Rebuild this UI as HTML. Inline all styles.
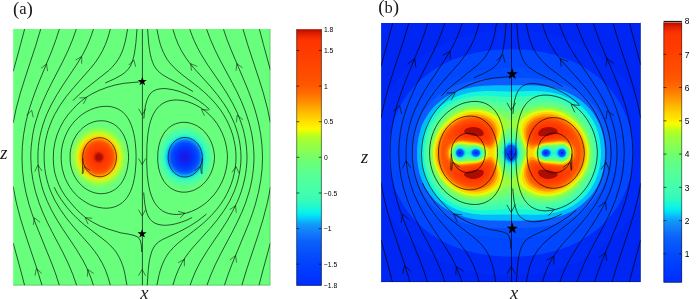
<!DOCTYPE html>
<html><head><meta charset="utf-8"><title>Vortex dipole: vorticity and strain</title>
<style>
html,body{margin:0;padding:0;background:#fff}
svg{display:block}
.tk{font-family:"Liberation Sans",sans-serif;font-size:8.4px;fill:#000}
.tka{font-family:"Liberation Sans",sans-serif;font-size:6.8px;fill:#000}
.lab{font-family:"Liberation Serif",serif;font-size:16.5px;fill:#1a1a1a}
.par{font-size:19px}
.ax{font-family:"Liberation Serif",serif;font-style:italic;font-size:18.5px;fill:#1a1a1a}
</style></head><body>
<svg width="697" height="299" viewBox="0 0 697 299">
<defs>
<clipPath id="ca"><rect x="13.2" y="29.1" width="257.1" height="256.3"/></clipPath>
<clipPath id="cb"><rect x="381.1" y="22.9" width="259.6" height="259.2"/></clipPath>
<filter id="softa" x="-2%" y="-2%" width="104%" height="104%"><feGaussianBlur stdDeviation="0.9"/></filter>
<filter id="soft" x="-2%" y="-2%" width="104%" height="104%"><feGaussianBlur stdDeviation="0.55"/></filter>
</defs>
<rect x="0" y="0" width="697" height="299" fill="#fff"/>
<g clip-path="url(#ca)"><g filter="url(#softa)">
<rect x="7.2" y="23.1" width="269.1" height="268.3" fill="#68ff7b"/>
<path d="M96.2,186.7 101.5,186.7 106.9,185.5 112.0,183.2 116.5,180.0 120.3,175.8 123.3,170.9 125.4,165.3 126.4,159.6 126.3,153.6 125.0,147.8 122.8,142.5 119.8,137.9 115.7,133.8 111.2,130.7 106.0,128.6 100.7,127.7 95.3,127.8 90.0,129.2 85.0,131.5 80.8,134.8 77.1,138.9 74.1,143.8 72.1,149.3 71.2,154.9 71.3,160.6 72.4,166.2 74.6,171.5 77.6,176.2 81.4,180.3 85.9,183.4 90.8,185.6 96.2,186.7Z" fill="#88ff53" fill-rule="evenodd"/>
<path d="M96.9,183.3 101.8,183.2 106.5,182.0 111.0,179.9 114.8,177.0 118.1,173.2 120.7,168.8 122.4,164.1 123.2,158.9 123.0,153.8 121.9,148.7 120.0,144.2 117.1,139.9 113.5,136.4 109.5,133.7 105.0,131.9 100.3,131.1 95.5,131.3 90.8,132.5 86.5,134.6 82.7,137.6 79.5,141.2 76.9,145.6 75.2,150.4 74.4,155.5 74.6,160.6 75.6,165.6 77.5,170.1 80.3,174.3 83.8,177.8 87.8,180.6 92.3,182.4 96.9,183.3Z" fill="#b2ff27" fill-rule="evenodd"/>
<path d="M96.9,180.1 101.1,180.0 105.2,179.1 109.0,177.4 112.7,174.7 115.6,171.5 117.9,167.7 119.4,163.4 120.2,159.1 120.1,154.7 119.2,150.2 117.5,145.9 115.1,142.3 112.0,139.2 108.4,136.7 104.5,135.1 100.3,134.3 96.0,134.5 91.9,135.5 88.0,137.4 84.7,139.9 81.9,143.1 79.6,147.0 78.1,151.2 77.4,155.5 77.5,160.0 78.4,164.5 80.1,168.5 82.5,172.1 85.5,175.2 88.9,177.6 92.8,179.2 96.9,180.1Z" fill="#ffe600" fill-rule="evenodd"/>
<path d="M96.1,177.5 99.8,177.7 103.7,177.1 107.3,175.6 110.5,173.5 113.3,170.7 115.5,167.3 117.0,163.6 117.8,159.8 117.9,155.7 117.2,151.7 115.8,147.8 113.8,144.4 111.2,141.6 108.0,139.2 104.5,137.7 100.9,136.8 97.3,136.8 93.6,137.5 90.2,138.9 87.0,141.1 84.2,144.0 82.1,147.2 80.6,150.8 79.8,154.7 79.7,158.7 80.3,162.6 81.6,166.2 83.5,169.6 86.1,172.6 89.1,174.9 92.5,176.6 96.1,177.5Z" fill="#ffb100" fill-rule="evenodd"/>
<path d="M97.4,175.6 100.9,175.5 104.1,174.8 107.1,173.4 110.1,171.1 112.4,168.5 114.3,165.3 115.4,162.1 116.0,158.5 115.9,154.7 115.1,151.2 113.6,147.8 111.7,145.0 109.3,142.6 106.5,140.7 103.3,139.4 99.8,138.8 96.4,139.0 93.2,139.8 90.2,141.3 87.4,143.4 85.2,145.9 83.4,148.9 82.2,152.3 81.6,155.9 81.7,159.6 82.4,163.0 83.9,166.4 85.7,169.2 88.0,171.6 90.8,173.6 93.8,174.9 97.4,175.6Z" fill="#ff7900" fill-rule="evenodd"/>
<path d="M98.0,174.1 101.1,173.9 104.1,173.1 106.9,171.7 109.5,169.7 111.5,167.3 113.1,164.4 114.2,161.1 114.6,157.9 114.4,154.4 113.6,151.2 112.2,148.3 110.3,145.7 108.1,143.6 105.4,141.9 102.4,140.8 99.4,140.3 96.2,140.6 93.2,141.4 90.4,142.9 88.1,144.8 85.9,147.4 84.4,150.2 83.4,153.4 83.0,156.6 83.2,159.8 84.0,163.0 85.3,166.0 87.2,168.7 89.5,170.9 92.1,172.5 95.1,173.7 98.0,174.1Z" fill="#ff5400" fill-rule="evenodd"/>
<path d="M98.6,172.0 101.3,171.7 103.9,170.9 106.3,169.6 108.4,167.8 110.2,165.6 111.5,163.0 112.3,160.2 112.6,157.4 112.4,154.7 111.6,151.8 110.3,149.2 108.7,147.0 106.7,145.1 104.3,143.7 101.8,142.8 99.0,142.5 96.2,142.8 93.6,143.6 91.3,144.9 89.1,146.7 87.4,148.9 86.1,151.5 85.3,154.2 85.0,157.0 85.2,159.8 86.0,162.6 87.2,165.2 88.9,167.5 90.8,169.2 93.2,170.7 95.8,171.6 98.6,172.0Z" fill="#ff4900" fill-rule="evenodd"/>
<path d="M97.4,169.2 99.6,169.2 102.0,168.8 104.0,167.9 105.8,166.6 107.5,164.9 108.7,163.0 109.5,160.9 110.0,158.5 110.0,156.2 109.6,153.8 108.8,151.7 107.5,149.6 106.0,148.0 104.1,146.6 102.0,145.7 99.8,145.2 97.7,145.2 95.5,145.7 93.6,146.5 91.7,147.9 90.1,149.5 88.9,151.5 88.1,153.6 87.6,155.9 87.6,158.3 88.0,160.6 88.8,162.8 90.0,164.7 91.5,166.4 93.2,167.7 95.3,168.7 97.4,169.2Z" fill="#ff3d00" fill-rule="evenodd"/>
<path d="M97.1,165.8 100.3,165.8 101.8,165.3 103.3,164.5 105.6,162.0 106.4,160.4 106.8,158.7 106.8,155.3 105.4,152.1 103.0,149.8 100.0,148.6 96.8,148.8 94.0,150.1 91.9,152.6 90.8,155.7 90.8,159.1 92.1,162.1 94.3,164.5 97.1,165.8Z" fill="#ff3600" fill-rule="evenodd"/>
<path d="M97.8,162.1 99.6,162.2 101.3,161.5 102.7,160.0 103.4,158.1 103.4,156.2 102.6,154.2 101.1,152.9 99.4,152.2 97.7,152.3 96.0,153.2 94.8,154.7 94.2,156.4 94.2,158.3 94.9,160.0 96.2,161.4 97.8,162.1Z" fill="#ac0c00" fill-rule="evenodd"/>
<path d="M182.2,186.7 187.7,186.7 193.0,185.5 198.2,183.2 202.7,179.9 206.4,175.8 209.4,170.9 211.4,165.6 212.4,159.6 212.3,153.8 211.2,148.0 209.0,142.7 205.9,138.0 202.0,133.9 197.3,130.8 192.2,128.7 186.8,127.7 181.5,127.8 176.1,129.1 171.2,131.5 166.9,134.7 163.1,138.9 160.2,143.8 158.2,149.1 157.3,154.7 157.3,160.4 158.5,166.2 160.6,171.5 163.6,176.2 167.5,180.3 172.0,183.5 177.0,185.6 182.2,186.7Z" fill="#54ff98" fill-rule="evenodd"/>
<path d="M183.0,183.3 187.7,183.2 192.4,182.1 196.7,180.1 200.8,177.1 204.2,173.2 206.7,169.0 208.4,164.3 209.2,159.1 209.1,154.0 208.0,149.0 206.1,144.3 203.3,140.1 199.7,136.5 195.6,133.8 191.1,132.0 186.4,131.1 181.7,131.3 177.0,132.5 172.6,134.6 168.8,137.5 165.6,141.2 163.0,145.5 161.3,150.2 160.5,155.3 160.6,160.4 161.6,165.3 163.6,170.0 166.4,174.3 169.7,177.7 173.8,180.5 178.3,182.4 183.0,183.3Z" fill="#45ffab" fill-rule="evenodd"/>
<path d="M182.9,180.1 187.3,180.0 191.3,179.1 195.2,177.3 198.7,174.7 201.6,171.5 203.9,167.7 205.5,163.4 206.2,158.9 206.1,154.4 205.2,150.0 203.4,145.7 201.0,142.1 198.0,139.1 194.3,136.6 190.5,135.1 186.2,134.3 181.9,134.5 177.8,135.5 174.0,137.5 170.8,139.9 167.9,143.1 165.7,147.0 164.2,151.0 163.5,155.5 163.6,160.0 164.4,164.3 166.2,168.5 168.6,172.2 171.6,175.3 175.0,177.6 178.9,179.3 182.9,180.1Z" fill="#28f9c6" fill-rule="evenodd"/>
<path d="M182.1,177.5 186.0,177.7 189.6,177.1 193.3,175.7 196.5,173.5 199.3,170.8 201.4,167.5 203.0,163.8 203.9,159.8 204.0,155.7 203.3,151.7 201.9,147.8 199.9,144.5 197.3,141.6 194.1,139.3 190.7,137.7 187.0,136.9 183.4,136.8 179.8,137.5 176.3,138.9 173.1,141.0 170.4,143.8 168.2,147.1 166.7,150.8 165.8,154.7 165.7,158.7 166.4,162.6 167.6,166.2 169.6,169.6 172.0,172.5 175.0,174.8 178.5,176.6 182.1,177.5Z" fill="#06ccf9" fill-rule="evenodd"/>
<path d="M183.4,175.6 186.8,175.5 190.0,174.8 193.3,173.3 196.0,171.2 198.5,168.5 200.2,165.6 201.5,162.1 202.0,158.7 202.0,155.1 201.2,151.5 199.8,148.0 197.8,145.0 195.4,142.6 192.4,140.6 189.2,139.4 186.0,138.8 182.5,139.0 179.3,139.8 176.1,141.3 173.5,143.3 171.3,145.9 169.4,149.1 168.2,152.3 167.7,155.9 167.8,159.6 168.5,163.0 169.8,166.2 171.7,169.2 174.2,171.7 177.0,173.6 180.0,174.9 183.4,175.6Z" fill="#127ffa" fill-rule="evenodd"/>
<path d="M184.1,174.1 187.0,174.0 190.0,173.2 192.9,171.8 195.4,169.8 197.5,167.3 199.1,164.5 200.1,161.5 200.6,158.1 200.5,154.7 199.7,151.5 198.4,148.5 196.6,145.9 194.3,143.7 191.5,141.9 188.5,140.8 185.5,140.3 182.3,140.5 179.3,141.4 176.5,142.9 174.2,144.8 172.2,147.2 170.5,150.1 169.5,153.2 169.1,156.4 169.2,159.6 169.9,162.8 171.2,165.8 173.1,168.5 175.5,170.8 178.0,172.5 181.0,173.6 184.1,174.1Z" fill="#095bfa" fill-rule="evenodd"/>
<path d="M184.6,172.0 187.5,171.7 190.0,170.9 192.4,169.6 194.5,167.7 196.3,165.5 197.5,163.0 198.3,160.2 198.6,157.4 198.4,154.7 197.7,151.9 196.5,149.3 194.8,147.0 192.8,145.2 190.5,143.8 187.9,142.8 185.1,142.5 182.3,142.7 179.8,143.5 177.4,144.8 175.3,146.7 173.5,148.9 172.2,151.5 171.4,154.2 171.1,157.0 171.3,159.8 172.0,162.6 173.3,165.3 175.0,167.5 177.0,169.3 179.3,170.7 181.9,171.6 184.6,172.0Z" fill="#0348fc" fill-rule="evenodd"/>
<path d="M183.5,169.2 185.8,169.2 187.9,168.8 190.0,167.9 191.9,166.6 193.5,165.0 194.7,163.0 195.6,160.9 196.1,158.5 196.1,156.2 195.7,153.8 194.8,151.5 193.5,149.5 192.0,147.9 190.1,146.5 188.1,145.7 186.0,145.2 183.8,145.2 181.7,145.7 179.6,146.5 177.8,147.8 176.2,149.5 175.0,151.5 174.1,153.6 173.7,155.9 173.6,158.3 174.1,160.6 174.9,162.8 176.0,164.7 177.6,166.4 179.3,167.7 181.3,168.6 183.5,169.2Z" fill="#0039ff" fill-rule="evenodd"/>
<path d="M183.2,165.8 186.4,165.8 187.9,165.3 189.4,164.5 190.7,163.3 191.7,161.9 192.9,158.7 192.8,155.3 191.5,152.2 189.2,149.8 186.2,148.6 183.0,148.7 180.2,150.1 178.0,152.5 176.8,155.7 176.9,159.1 178.1,162.1 180.3,164.5 183.2,165.8Z" fill="#0828f6" fill-rule="evenodd"/>
<path d="M183.9,162.1 185.8,162.2 187.5,161.4 188.8,160.0 189.5,158.1 189.4,156.2 188.6,154.2 187.3,152.9 185.5,152.3 183.6,152.4 182.1,153.2 180.9,154.4 180.2,156.4 180.3,158.3 180.9,160.0 182.3,161.5 183.9,162.1Z" fill="#161ce6" fill-rule="evenodd"/>
</g></g>
<g clip-path="url(#ca)" fill="none" stroke="#000" stroke-width="0.66" stroke-linecap="butt" stroke-linejoin="round">
<path d="M13.2,71.4 20.6,44.4 24.6,29.1M24.6,285.4 20.6,270.0 13.2,243.1M13.2,122.8 16.2,108.5 20.4,92.9 24.8,78.8 35.7,45.7 40.7,29.1M42.0,285.4 37.0,269.0 25.3,234.1 20.6,219.0 18.3,210.4 16.2,202.1 14.6,194.2 13.2,186.4M59.4,285.5 56.0,275.0 52.0,264.1 34.9,221.9 31.7,212.8 29.0,204.4 25.9,192.4 23.7,180.9 22.4,169.4 22.0,158.1 22.3,146.4 23.6,134.6 25.7,122.9 28.8,110.7 31.6,102.0 34.8,92.8 38.8,82.5 52.0,50.3 56.0,39.4 59.4,28.9M76.7,285.5 72.8,274.4 68.1,263.2 62.8,252.3 51.8,231.3 47.1,222.0 42.7,212.2 39.1,203.0 35.5,191.7 32.9,180.4 31.3,169.1 30.8,158.1 30.9,152.1 31.2,146.6 32.6,135.3 33.7,129.5 35.1,123.8 38.7,112.2 42.3,102.8 46.8,92.8 51.4,83.5 62.5,62.1 67.8,51.1 72.5,39.9 76.4,28.8M93.5,285.5 91.3,278.9 88.8,272.5 86.0,266.3 82.8,260.1 76.2,249.1 62.6,228.8 57.1,220.1 51.8,210.7 47.4,201.6 45.1,196.0 43.2,190.7 41.6,185.3 40.3,179.8 39.2,174.3 38.5,168.7 38.0,163.2 37.9,157.7 38.0,151.9 38.4,146.4 39.1,140.8 40.2,135.3 41.5,129.7 43.1,124.3 45.0,118.8 47.2,113.3 51.6,104.1 57.0,94.5 62.6,85.6 76.3,65.1 82.9,54.2 86.1,48.0 88.9,41.7 91.3,35.5 93.5,28.9M110.4,285.5 108.1,277.4 105.4,269.9 102.2,263.1 98.3,256.4 94.7,251.3 90.4,245.9 73.6,226.9 66.5,218.3 60.1,209.2 54.7,200.1 52.3,194.9 50.1,189.8 48.3,184.5 46.8,179.2 45.6,173.8 44.8,168.3 44.3,163.0 44.1,157.4 44.2,151.9 44.7,146.6 45.5,141.0 46.7,135.7 48.1,130.4 50.0,125.1 52.2,119.7 54.6,114.6 59.9,105.5 66.5,96.1 73.6,87.6 90.4,68.5 94.7,63.2 98.3,58.0 102.2,51.4 105.4,44.5 108.1,37.0 110.4,28.9M127.6,29.1 125.6,40.1 124.4,44.8 123.1,49.1 121.6,52.9 119.9,56.5 117.9,59.8 115.7,63.0 112.3,67.0 108.4,70.8 84.6,89.6 78.5,95.1 73.0,100.6M126.9,285.3 125.0,274.4 123.9,269.6 122.6,265.3 121.1,261.4 119.5,257.9 117.6,254.5 115.6,251.4 112.0,247.1 107.3,242.6 102.1,238.4 84.2,224.7 78.2,219.5 73.1,214.4 67.1,207.6 61.1,199.4 57.3,193.4 54.1,187.1M137.0,29.1 135.9,42.8 134.5,53.1 133.6,57.1 132.6,60.8 131.4,63.8 130.0,66.6 128.5,68.8 126.7,70.8 124.7,72.7 122.1,74.6 115.2,78.5 105.2,83.0M141.7,252.0 141.3,245.0 140.3,240.5 138.2,237.2 134.0,235.4 128.0,234.0 120.9,232.9 108.0,229.0 100.0,226.0 92.7,222.2 86.0,218.0 80.4,213.2 75.5,208.4 68.4,200.1 65.2,195.9 61.7,190.4 58.8,184.5 56.4,178.3 54.6,172.0 53.6,165.3 53.3,158.5 53.6,150.4 54.9,142.5 57.0,134.9 60.0,127.7 63.7,120.9 68.1,114.6 72.8,109.3 76.7,105.2 80.2,102.0 85.1,98.0 91.9,93.9 99.2,90.3 107.2,87.3 115.2,85.0 123.8,83.3 138.1,82.0 141.5,81.5M103.3,208.1 99.0,207.5 94.7,206.4 90.4,204.8 86.4,202.7 82.4,200.1 78.7,197.3 75.3,194.0 72.4,190.6 69.6,186.8 67.3,182.7 65.3,178.5 63.7,174.0 62.4,169.3 61.6,164.7 61.2,159.8 61.2,154.7 61.6,149.8 62.4,145.1 63.7,140.5 65.3,136.0 67.3,131.7 69.6,127.7 72.4,123.9 75.3,120.4 78.7,117.2 82.4,114.3 86.4,111.7 90.4,109.7 94.7,108.1 98.8,107.0 103.0,106.4 107.1,106.3 110.8,106.6 114.2,107.5 117.5,108.7 120.3,110.3 123.0,112.3 125.4,114.8 127.5,117.6 129.5,121.0 131.1,124.6 132.5,128.7 133.7,133.2 134.7,138.4 135.4,143.9 135.9,149.9 136.1,156.6 136.0,162.2 135.6,167.9 135.1,173.5 134.3,178.4 133.3,183.2 132.0,187.5 130.6,191.2 128.9,194.6 127.0,197.6 124.9,200.2 122.5,202.5 119.8,204.4 116.8,206.0 113.8,207.1 110.3,207.9 106.9,208.2 103.3,208.1M98.3,193.5 95.3,193.0 92.4,192.1 89.4,190.9 86.6,189.4 84.1,187.6 81.6,185.5 79.3,183.1 77.2,180.5 75.3,177.6 73.7,174.6 72.4,171.4 71.4,168.2 70.6,164.8 70.2,161.4 70.1,154.3 70.4,150.9 71.1,147.5 72.0,144.1 73.2,140.9 74.7,138.0 76.4,135.0 78.4,132.3 80.5,130.0 82.9,127.7 85.6,125.7 88.3,124.1 91.1,122.8 93.8,121.8 96.8,121.1 99.8,120.8 102.8,120.8 105.6,121.1 108.4,121.8 111.0,122.8 113.7,124.1 116.1,125.8 118.3,127.7 120.2,129.9 122.0,132.4 123.6,135.0 125.0,138.1 126.2,141.3 127.2,144.9 127.9,148.8 128.4,152.7 128.6,157.0 128.5,160.2 127.5,167.8 126.7,171.2 125.6,174.7 124.4,177.7 122.9,180.7 121.2,183.3 119.3,185.6 117.2,187.7 114.8,189.6 112.4,191.0 109.7,192.2 106.9,193.1 104.1,193.5 101.3,193.7 98.3,193.5M97.5,176.6 94.3,175.8 91.2,174.2 88.5,172.0 86.2,169.3 84.4,166.0 83.3,162.7 82.7,159.1 82.8,154.9 83.4,151.4 84.6,148.0 86.4,144.9 88.7,142.2 91.4,140.1 94.5,138.6 97.7,137.8 100.9,137.7 104.2,138.3 107.2,139.7 110.1,141.8 112.4,144.4 114.3,147.6 115.7,151.3 116.4,155.3 116.4,159.0 115.7,162.9 114.4,166.6 112.5,169.8 110.1,172.6 107.2,174.7 104.2,176.1 100.9,176.8 97.5,176.6M82.8,158.0 82.3,174.0M142.4,29.1 142.4,285.4M270.4,70.2 263.4,44.4 259.4,29.1M259.0,285.4 263.0,270.0 270.4,242.9M270.4,122.6 267.4,108.3 263.3,92.9 258.9,78.8 248.0,45.7 243.0,29.1M241.8,285.4 246.8,269.0 258.4,234.3 263.0,219.4 267.4,202.7 269.0,194.8 270.4,187.0M224.4,285.5 227.8,275.3 231.8,264.6 249.1,222.7 252.5,213.3 255.3,204.5 258.5,192.3 260.7,180.5 262.1,168.8 262.5,157.2 262.0,145.5 260.6,133.7 258.3,122.0 255.0,109.8 252.1,100.9 248.6,91.5 244.3,81.0 231.1,49.9 226.9,39.3 223.5,29.2M206.9,285.4 210.8,274.9 215.5,264.2 220.9,253.4 232.2,232.2 236.9,222.9 241.6,212.8 245.4,203.4 249.1,191.9 250.6,186.1 251.8,180.3 252.7,174.6 253.4,168.8 253.8,163.0 254.0,157.2 253.8,151.4 253.4,145.7 252.7,139.9 251.8,134.1 250.5,128.3 249.0,122.6 245.2,110.9 241.4,101.4 236.7,91.4 232.0,82.3 220.4,60.8 215.1,50.1 210.5,39.7 206.6,29.2M190.1,285.3 192.4,278.9 194.9,272.9 197.7,266.9 200.9,261.0 207.6,250.2 221.3,230.0 226.9,221.3 232.4,211.6 237.0,202.4 239.3,196.9 241.3,191.3 243.0,185.7 244.4,180.0 245.5,174.4 246.3,168.6 246.8,163.0 247.0,157.2 246.8,151.4 246.3,145.9 245.5,140.1 244.4,134.5 243.0,128.7 241.2,123.2 239.2,117.6 236.9,112.0 232.4,102.9 226.8,93.2 221.0,84.2 207.2,64.2 200.7,53.6 197.5,47.6 194.6,41.7 192.1,35.7 189.8,29.3M172.9,285.1 175.4,277.2 178.2,270.2 181.5,263.6 185.4,257.2 188.9,252.4 193.2,247.1 210.2,228.3 217.3,219.8 224.0,210.5 226.9,205.9 229.6,201.2 232.2,195.9 234.5,190.7 236.4,185.4 238.0,179.8 239.3,174.2 240.2,168.6 240.8,163.0 241.0,157.2 240.8,151.4 240.2,145.8 239.3,140.2 238.0,134.6 236.4,129.1 234.5,123.8 232.2,118.6 229.6,113.2 226.9,108.5 224.0,103.9 217.3,94.7 210.2,86.1 193.2,67.4 188.9,62.1 185.4,57.2 181.5,50.9 178.2,44.3 175.4,37.2 172.9,29.3M156.9,285.2 159.1,274.7 160.3,270.2 161.8,265.9 163.4,262.0 165.2,258.4 167.1,255.2 169.4,252.0 173.3,247.6 178.0,243.2 182.8,239.3 198.4,227.3 203.4,223.1 207.9,218.9 212.4,214.3 216.6,209.5 220.3,204.7 223.7,199.6 226.5,194.7 228.9,189.6 231.0,184.6 232.8,179.2 234.1,173.8 235.2,168.2 235.8,162.8 236.0,157.2 235.8,151.6 235.2,146.2 234.1,140.6 232.8,135.3 231.0,129.9 228.9,124.8 226.5,119.8 223.7,114.9 220.3,109.7 216.6,104.9 212.4,100.2 207.9,95.5 203.4,91.4 198.4,87.2 182.8,75.2 178.0,71.2 173.3,66.8 169.4,62.4 167.1,59.3 165.2,56.0 163.4,52.4 161.8,48.6 160.3,44.3 159.1,39.8 156.9,29.2M147.6,29.0 148.7,43.8 149.5,49.5 150.3,54.4 151.4,58.7 152.6,62.3 154.0,65.5 155.8,68.2 157.4,70.3 159.3,72.2 161.6,74.0 164.1,75.7 168.7,78.3 184.6,86.6 193.0,91.5M147.2,285.4 148.3,269.3 149.0,263.2 149.9,258.2 151.0,253.9 152.3,250.2 153.9,247.1 155.9,244.3 158.9,241.7 162.8,239.4 178.2,232.2 184.9,228.8 190.5,225.6 198.9,220.1 206.5,214.0M143.8,118.6 144.6,110.9 145.6,104.9 147.1,99.7 148.7,96.1 150.7,93.2 153.2,91.2 156.3,89.6 160.2,88.8 164.8,88.5 171.9,89.5 178.7,91.2 186.2,94.0 192.6,97.0 198.6,100.6 204.4,104.9 209.5,109.5M143.7,192.5 144.3,199.3 145.0,205.1 145.9,209.7 147.1,213.8 148.6,217.0 150.3,219.5 152.2,221.4 154.9,223.2 158.1,224.4 162.0,225.1 165.6,225.3 170.8,224.8 176.2,223.7 181.5,222.1 186.9,220.1 192.2,217.5M172.2,214.2 176.7,214.5 181.7,214.1 186.7,213.0 191.7,211.3 196.7,209.0 201.6,206.1 206.0,202.8 210.1,199.0 213.8,195.0 217.0,190.7 219.9,185.9 222.4,181.0 224.4,175.8 225.9,170.3 226.9,164.9 227.4,159.2 227.4,154.4 226.7,148.5 225.6,143.0 224.0,137.6 222.0,132.6 219.6,127.9 216.8,123.3 213.5,119.0 209.7,115.0 205.7,111.4 201.6,108.4 196.9,105.6 192.1,103.3 187.3,101.6 182.6,100.5 177.8,100.0 174.4,100.0 171.0,100.4 167.9,101.1 164.9,102.3 162.2,103.8 159.8,105.6 157.5,107.9 155.5,110.5 153.7,113.5 152.2,116.7 150.8,120.5 149.6,124.6 148.7,129.2 147.9,134.3 146.9,145.5 146.7,163.0 147.3,175.3 148.0,181.2 148.9,186.7 150.1,191.7 151.5,196.1 153.2,200.0 155.1,203.4 157.3,206.3 159.6,208.7 162.3,210.8 165.3,212.4 168.5,213.5 172.2,214.2M180.2,191.9 183.2,192.2 186.2,192.1 189.2,191.6 192.3,190.8 195.1,189.6 198.0,188.0 200.7,186.2 203.1,184.1 205.4,181.8 207.5,179.0 209.3,176.2 210.9,173.2 212.2,169.9 213.2,166.7 213.9,163.2 214.4,159.6 214.5,157.2 214.2,153.3 213.6,149.8 212.7,146.3 211.6,143.0 210.2,140.0 208.6,137.2 206.7,134.4 204.7,131.9 202.4,129.7 200.0,127.8 197.3,126.0 194.7,124.7 191.8,123.6 189.0,122.8 186.0,122.4 183.2,122.3 180.6,122.5 178.1,123.0 175.6,123.8 173.1,124.9 170.8,126.3 168.8,127.8 166.8,129.7 165.0,131.8 163.4,134.2 160.7,139.4 158.9,145.5 157.9,152.0 157.7,160.4 158.4,166.9 159.2,170.2 160.1,173.4 161.3,176.3 162.6,179.0 164.2,181.6 166.0,183.9 168.0,185.9 170.2,187.8 172.5,189.2 174.9,190.4 177.5,191.3 180.2,191.9M182.2,176.8 185.8,177.0 189.2,176.4 192.5,174.9 195.6,172.7 198.2,169.8 200.2,166.6 201.6,162.9 202.3,159.0 202.3,155.3 201.5,151.3 200.1,147.6 198.1,144.4 195.6,141.7 192.7,139.6 189.4,138.2 186.2,137.5 183.0,137.5 179.8,138.3 176.9,139.7 174.2,141.8 171.9,144.4 170.2,147.4 169.0,150.7 168.3,154.5 168.2,158.9 168.7,162.5 169.8,166.0 171.4,169.2 173.5,172.0 176.0,174.2 179.0,175.9 182.2,176.8M202.3,158.0 201.9,174.0"/>
<path d="M40.9,68.3 L46.6,64.0M47.5,71.1 L46.6,64.0M75.5,60.1 L81.7,56.5M81.7,63.7 L81.7,56.5M128.7,65.0 L133.8,59.9M135.7,66.8 L133.8,59.9M191.5,70.7 L190.6,63.6M197.2,66.4 L190.6,63.6M236.0,70.7 L236.9,63.6M242.6,67.9 L236.9,63.6M26.4,115.2 L31.7,110.3M33.2,117.3 L31.7,110.3M34.8,171.5 L37.9,165.0M42.0,171.0 L37.9,165.0M79.4,98.0 L86.6,97.6M83.4,104.0 L86.6,97.6M88.1,224.1 L85.1,217.6M92.3,218.2 L85.1,217.6M33.3,224.9 L34.5,217.8M40.1,222.4 L34.5,217.8M34.9,275.6 L36.4,268.6M41.7,273.4 L36.4,268.6M87.3,276.7 L87.9,269.5M93.8,273.6 L87.9,269.5M138.5,275.7 L142.1,269.5M145.7,275.8 L142.1,269.5M145.8,108.8 L142.1,115.0M138.6,108.7 L142.1,115.0M145.7,158.4 L142.1,164.6M138.5,158.4 L142.1,164.6M145.6,209.6 L142.1,215.9M138.4,209.7 L142.1,215.9M204.5,115.9 L201.5,109.4M208.7,110.1 L201.5,109.4M236.3,122.4 L237.2,115.3M242.9,119.7 L237.2,115.3M178.0,211.3 L185.0,213.1M179.9,218.2 L185.0,213.1M229.7,209.7 L235.6,205.6M236.2,212.8 L235.6,205.6M178.2,262.7 L184.5,259.2M184.3,266.4 L184.5,259.2M229.9,259.9 L235.6,255.5M236.5,262.6 L235.6,255.5M231.8,172.4 L236.1,166.6M239.0,173.2 L236.1,166.6M83.3,173.5 L84.0,166.3M89.9,170.5 L84.0,166.3M194.7,170.6 L200.5,166.3M201.3,173.5 L200.5,166.3" stroke-width="0.50"/>
</g>
<polygon points="142.3,76.7 143.4,79.9 146.8,79.9 144.1,82.0 145.1,85.2 142.3,83.3 139.5,85.2 140.5,82.0 137.8,79.9 141.2,79.9" fill="#000"/><polygon points="142.1,229.1 143.2,232.3 146.6,232.3 143.9,234.4 144.9,237.6 142.1,235.7 139.3,237.6 140.3,234.4 137.6,232.3 141.0,232.3" fill="#000"/>
<g clip-path="url(#cb)"><g filter="url(#soft)">
<rect x="375.1" y="16.9" width="271.6" height="271.2" fill="#0326f3"/>
<path d="M504.9,276.3 516.1,276.3 527.4,275.6 538.4,274.2 549.0,272.2 559.4,269.4 569.3,266.0 579.1,261.9 588.2,257.2 596.8,251.9 604.8,246.1 612.4,239.6 619.3,232.7 625.7,225.1 631.6,216.9 636.8,208.0 640.4,200.3 640.8,190.1 640.8,115.8 640.3,105.4 636.1,96.6 630.4,87.3 626.1,81.2 621.5,75.6 616.5,70.2 611.1,65.1 605.5,60.3 599.4,55.8 593.1,51.6 586.7,47.9 579.7,44.3 572.6,41.2 565.2,38.4 557.7,36.0 549.9,33.9 541.9,32.3 533.9,31.0 525.6,30.1 514.0,29.5 502.1,29.7 490.4,30.7 478.9,32.5 467.9,35.0 457.3,38.2 446.9,42.2 437.1,46.8 427.8,52.2 419.2,58.2 411.2,64.7 403.7,72.0 397.0,79.7 390.9,88.2 385.3,97.4 382.5,103.1 381.5,105.6 381.1,115.8 381.1,190.1 381.5,200.7 387.0,211.5 393.7,221.9 398.4,227.9 403.3,233.5 408.7,238.9 414.4,244.0 420.5,248.7 426.8,253.0 433.5,257.1 440.6,260.8 448.0,264.2 455.5,267.1 463.3,269.7 471.3,271.8 479.6,273.5 487.8,274.9 496.2,275.8 504.9,276.3ZM510.5,154.9 509.6,154.0 509.4,152.5 510.0,151.2 511.1,150.9 512.2,151.7 512.5,153.4 511.8,154.7 511.1,155.0 510.5,154.9ZM545.5,153.8 544.9,153.5 544.7,153.0 545.0,152.3 545.8,152.1 546.3,152.3 546.6,153.0 546.3,153.6 545.5,153.8ZM561.8,153.8 561.3,153.2 561.4,152.5 561.8,152.1 562.4,152.0 563.0,152.5 563.0,153.4 562.4,153.9 561.8,153.8ZM459.2,153.8 458.8,153.2 458.8,152.5 459.4,152.0 460.1,152.1 460.5,152.7 460.5,153.4 459.9,153.9 459.2,153.8ZM476.1,153.8 475.4,153.4 475.3,152.7 475.9,152.1 476.5,152.1 477.1,152.5 477.2,153.2 476.7,153.7 476.1,153.8Z" fill="#0329f5" fill-rule="evenodd"/>
<path d="M504.0,256.6 516.1,256.7 528.0,256.0 539.5,254.4 550.5,252.2 560.9,249.2 570.9,245.4 580.2,240.9 588.8,235.7 597.0,229.7 604.3,223.2 611.0,215.8 616.8,208.0 621.8,199.6 626.0,190.8 629.2,181.5 631.6,171.7 632.9,161.6 633.3,151.2 632.6,140.9 630.9,130.7 628.1,121.0 624.4,111.5 619.7,102.4 614.1,94.0 607.6,86.2 600.4,79.1 592.5,72.7 583.6,66.9 574.1,62.0 564.2,57.9 553.6,54.5 542.3,52.0 529.1,50.1 515.5,49.2 501.6,49.4 488.2,50.6 475.4,52.8 463.5,55.9 452.1,60.0 441.5,65.1 431.7,71.0 422.9,77.9 414.9,85.5 407.8,94.0 401.8,103.1 396.8,113.0 392.9,123.4 390.3,134.2 388.8,145.8 388.6,157.5 389.8,169.2 392.3,180.4 394.1,186.0 396.1,191.4 401.1,201.6 407.3,211.3 414.6,220.1 422.9,228.0 431.9,235.0 442.1,241.1 452.9,246.2 464.6,250.3 477.2,253.5 490.4,255.6 504.0,256.6ZM510.3,156.1 509.4,155.5 508.8,154.7 508.5,153.6 508.5,152.3 509.4,150.4 510.3,149.8 511.1,149.7 512.1,150.1 512.9,151.0 513.4,152.3 513.4,153.6 512.9,154.9 512.2,155.7 511.4,156.1 510.3,156.1ZM545.3,154.3 544.5,153.8 544.2,152.7 544.9,151.8 546.0,151.6 546.8,152.2 547.1,153.2 546.4,154.1 545.3,154.3ZM562.0,154.5 561.0,153.8 560.8,152.7 561.3,151.7 562.2,151.4 563.3,152.0 563.6,153.2 563.1,154.1 562.0,154.5ZM459.4,154.5 458.5,153.8 458.3,152.7 458.8,151.8 459.9,151.4 460.9,152.1 461.1,153.2 460.5,154.2 459.4,154.5ZM475.9,154.3 474.9,153.6 474.8,152.5 475.7,151.7 476.7,151.7 477.5,152.3 477.6,153.4 477.0,154.1 475.9,154.3Z" fill="#0446ff" fill-rule="evenodd"/>
<path d="M501.5,238.1 512.0,238.2 522.6,238.0 532.3,237.2 541.4,236.0 549.7,234.4 557.7,232.3 565.2,229.7 572.2,226.7 578.9,223.1 585.1,219.0 591.1,214.3 596.5,209.1 601.3,203.5 605.6,197.4 609.1,191.2 612.2,184.5 614.8,176.7 616.6,168.7 617.7,160.3 618.0,151.9 617.5,143.2 616.2,135.0 614.2,127.0 611.4,119.5 607.9,112.3 603.7,105.6 598.8,99.4 593.4,93.7 587.3,88.5 580.6,83.9 573.5,79.8 565.7,76.3 555.3,72.9 544.0,70.3 531.7,68.6 518.3,67.8 503.6,67.8 489.5,68.7 477.0,70.5 465.5,73.2 455.7,76.5 446.9,80.6 438.7,85.5 431.1,91.4 424.4,97.9 418.5,105.1 413.6,113.0 409.7,121.4 407.8,126.6 406.4,131.8 405.2,137.2 404.4,142.6 403.9,148.2 403.8,153.8 404.6,164.8 406.7,175.4 408.3,180.6 410.1,185.6 412.4,190.5 414.8,195.1 417.6,199.4 420.7,203.7 427.6,211.4 435.4,218.0 444.3,223.9 454.0,228.7 464.4,232.4 475.7,235.2 488.0,237.1 501.5,238.1ZM510.1,158.0 508.8,157.2 507.7,155.8 507.1,154.0 507.1,152.1 507.6,150.4 508.5,148.9 509.8,148.0 511.4,147.8 512.9,148.5 514.1,149.9 514.7,151.9 514.8,153.8 514.2,155.8 513.1,157.2 511.6,158.0 510.1,158.0ZM545.5,155.1 544.7,154.9 543.8,154.3 543.3,152.7 543.6,151.9 544.2,151.2 546.0,150.8 546.8,151.0 547.6,151.7 548.1,153.2 547.3,154.6 545.5,155.1ZM561.6,155.3 560.7,154.9 560.2,154.2 559.8,152.5 560.7,151.0 561.6,150.6 562.4,150.5 563.3,150.9 563.9,151.5 564.3,152.3 564.3,153.4 563.9,154.4 563.3,155.0 562.4,155.4 561.6,155.3ZM459.2,155.3 458.4,154.9 457.8,154.2 457.5,152.5 458.4,151.0 459.2,150.6 460.1,150.5 460.9,150.9 461.6,151.5 462.0,152.3 462.0,153.4 461.7,154.2 460.9,155.0 460.1,155.4 459.2,155.3ZM476.1,155.1 474.4,154.5 473.8,153.0 474.4,151.4 476.1,150.8 477.8,151.4 478.3,152.1 478.5,153.0 478.3,153.8 477.8,154.5 476.1,155.1Z" fill="#064dff" fill-rule="evenodd"/>
<path d="M503.9,228.3 525.0,228.1 533.6,227.6 541.2,226.8 548.4,225.7 555.1,224.2 561.6,222.2 567.4,219.9 573.5,217.0 579.1,213.7 584.3,209.9 589.0,205.8 593.5,201.1 597.4,196.2 600.8,191.0 603.7,185.4 606.4,178.7 608.4,171.5 609.7,164.2 610.3,156.6 610.3,148.8 609.6,141.1 608.2,133.7 606.1,126.6 603.5,120.1 600.3,114.1 596.4,108.3 592.0,103.1 586.9,98.1 581.5,93.8 575.4,90.0 569.1,86.7 560.5,83.3 551.2,80.8 541.0,79.0 529.5,78.0 512.4,77.5 494.7,77.9 481.7,78.9 470.5,80.9 461.6,83.3 453.2,86.5 445.6,90.5 438.7,95.1 432.4,100.5 426.8,106.7 422.1,113.2 418.2,120.6 416.3,125.1 414.6,130.1 413.3,135.0 412.4,140.2 411.7,145.6 411.4,151.2 411.5,156.8 411.9,162.2 413.7,172.4 415.0,177.1 416.7,181.9 418.7,186.4 421.0,190.8 423.7,195.1 426.5,199.0 433.0,206.0 440.4,212.1 448.6,217.1 457.7,221.2 467.4,224.3 478.0,226.5 489.7,227.7 503.9,228.3ZM510.3,159.7 508.5,158.9 507.0,157.2 506.1,154.9 505.9,152.3 506.4,149.9 507.7,147.8 509.4,146.5 511.1,146.2 513.1,146.9 514.8,148.6 515.7,151.0 515.9,153.6 515.3,156.2 514.0,158.3 512.2,159.5 510.3,159.7ZM545.5,155.8 544.5,155.5 543.4,154.8 542.8,153.8 542.6,152.7 543.0,151.7 543.8,150.8 544.9,150.3 546.2,150.1 547.3,150.4 548.3,151.2 548.8,152.1 549.0,153.2 548.6,154.2 547.8,155.1 546.8,155.6 545.5,155.8ZM561.1,156.0 560.0,155.4 559.3,154.5 559.0,153.4 559.1,152.1 559.6,151.0 560.5,150.2 561.6,149.8 562.6,149.8 563.7,150.3 564.6,151.4 565.0,152.5 564.9,153.8 564.4,154.9 563.5,155.7 562.4,156.1 561.1,156.0ZM459.0,156.0 457.9,155.4 457.2,154.5 456.9,153.4 457.0,152.1 457.5,151.0 458.3,150.2 459.4,149.8 460.5,149.8 461.6,150.4 462.5,151.3 462.9,152.5 462.8,153.8 462.2,154.9 461.3,155.8 460.1,156.1 459.0,156.0ZM475.9,155.8 474.8,155.5 473.7,154.9 473.0,153.8 472.9,152.7 473.2,151.7 474.0,150.8 475.0,150.3 476.3,150.1 477.4,150.4 478.5,151.1 479.1,152.1 479.2,153.2 478.9,154.2 478.1,155.1 477.0,155.6 475.9,155.8Z" fill="#085aff" fill-rule="evenodd"/>
<path d="M489.2,220.6 520.9,220.7 533.9,220.5 545.3,219.5 555.7,217.5 561.3,215.8 566.7,213.8 571.7,211.4 576.5,208.6 580.8,205.6 584.9,202.1 588.7,198.3 592.2,194.2 595.7,189.0 598.7,183.4 601.1,177.4 603.0,170.9 604.2,164.0 604.9,157.1 604.9,149.7 604.3,142.6 603.2,136.1 601.5,129.8 599.3,124.0 596.5,118.4 593.3,113.2 589.5,108.4 585.1,104.0 580.4,100.0 573.0,95.2 564.8,91.3 555.9,88.5 546.4,86.5 537.3,85.6 526.7,85.2 495.8,85.2 483.2,85.7 474.6,86.7 466.6,88.3 459.2,90.5 452.3,93.4 445.8,97.0 439.7,101.4 434.3,106.3 429.7,111.7 427.1,115.4 424.7,119.5 422.6,123.8 420.9,128.1 418.4,137.4 417.1,147.6 417.1,158.4 417.6,163.5 418.4,168.7 419.5,173.5 421.1,178.2 422.8,182.5 424.9,186.9 429.7,194.2 435.6,200.9 442.6,206.7 450.3,211.5 458.8,215.2 467.9,217.9 477.8,219.7 489.2,220.6ZM510.5,161.4 508.3,160.6 506.4,158.5 505.1,155.8 504.8,152.5 505.3,149.5 506.8,146.8 508.8,145.1 511.1,144.5 513.5,145.3 515.5,147.3 516.7,150.1 517.1,153.4 516.4,156.6 515.0,159.2 512.9,160.9 510.5,161.4ZM545.5,156.4 544.0,156.0 542.8,155.1 542.1,153.8 542.0,152.5 542.5,151.2 543.6,150.2 545.1,149.6 546.6,149.5 548.1,150.0 549.2,151.0 549.8,152.1 549.9,153.4 549.4,154.7 548.4,155.7 547.1,156.3 545.5,156.4ZM561.6,156.9 560.3,156.5 559.0,155.5 558.2,154.2 558.0,152.7 558.4,151.2 559.4,150.0 560.7,149.2 562.2,149.0 563.7,149.5 564.8,150.5 565.5,151.9 565.6,153.4 565.1,154.9 564.3,156.0 563.1,156.7 561.6,156.9ZM459.4,156.8 458.1,156.4 457.0,155.3 456.4,154.0 456.3,152.5 456.7,151.0 457.6,149.9 458.8,149.2 460.3,149.0 461.8,149.5 463.0,150.6 463.7,151.9 463.8,153.4 463.3,154.9 462.4,156.0 460.9,156.7 459.4,156.8ZM475.4,156.4 473.9,156.0 472.8,155.1 472.0,153.8 471.9,152.5 472.4,151.2 473.5,150.1 475.0,149.6 476.7,149.6 478.0,150.0 479.2,151.0 479.8,152.3 479.8,153.6 479.3,154.7 478.3,155.7 477.0,156.3 475.4,156.4Z" fill="#00bcfc" fill-rule="evenodd"/>
<path d="M482.4,214.7 490.6,214.8 511.4,214.4 536.2,214.8 544.2,214.4 551.6,213.4 556.6,212.3 561.3,210.9 565.9,209.2 570.4,207.0 574.5,204.7 578.4,202.0 582.1,199.0 585.4,195.8 589.1,191.4 592.3,186.6 595.0,181.5 597.2,176.1 599.0,170.2 600.2,164.0 600.9,157.5 601.0,151.0 600.5,144.5 599.5,138.3 598.1,132.4 596.1,126.8 593.5,121.4 590.5,116.4 587.0,111.9 583.0,107.7 576.3,102.4 568.5,97.9 560.0,94.6 550.7,92.3 543.8,91.5 536.5,91.1 510.9,91.5 486.0,91.1 478.3,91.4 471.1,92.3 464.2,93.9 457.9,95.9 451.9,98.6 446.2,101.9 441.0,105.8 436.5,110.1 433.6,113.4 431.1,116.9 426.8,124.4 423.7,132.9 421.6,142.2 420.9,152.1 421.4,162.0 423.2,171.5 426.2,180.2 430.1,187.5 435.1,194.2 441.0,200.1 448.0,205.1 455.5,209.0 463.8,211.9 472.6,213.8 482.4,214.7ZM510.1,163.1 508.8,162.7 507.5,161.9 505.4,159.4 504.0,156.0 503.6,152.3 504.4,148.6 506.2,145.4 508.5,143.3 509.8,142.8 511.1,142.7 512.4,142.9 513.7,143.6 515.0,144.6 516.2,146.0 517.8,149.7 518.2,153.6 517.4,157.5 515.5,160.8 514.2,162.0 512.9,162.8 511.6,163.2 510.1,163.1ZM545.5,157.1 543.6,156.5 542.1,155.3 541.3,153.8 541.3,152.3 542.0,150.8 543.4,149.5 545.3,148.9 547.3,148.9 549.0,149.6 550.4,150.8 551.1,152.1 551.2,153.6 550.4,155.1 549.0,156.3 547.3,157.0 545.5,157.1ZM560.7,157.5 559.0,156.7 557.6,155.3 556.8,153.8 556.8,152.3 557.6,150.6 559.0,149.2 560.7,148.4 562.6,148.4 564.3,149.1 565.5,150.4 566.2,152.1 566.1,154.0 565.5,155.6 564.2,156.9 562.4,157.6 560.7,157.5ZM459.0,157.5 457.5,156.8 456.2,155.3 455.6,153.6 455.7,151.9 456.4,150.3 457.7,149.0 459.4,148.3 461.2,148.4 462.9,149.2 464.3,150.6 465.1,152.3 465.0,153.8 464.1,155.5 462.7,156.8 460.9,157.5 459.0,157.5ZM475.2,157.1 473.5,156.6 471.8,155.5 470.8,154.0 470.6,152.5 471.3,151.0 472.8,149.6 474.8,148.9 476.7,148.9 478.5,149.5 479.8,150.6 480.5,152.1 480.6,153.6 479.9,155.1 478.7,156.2 477.0,157.0 475.2,157.1Z" fill="#17f6d9" fill-rule="evenodd"/>
<path d="M478.2,210.2 487.6,210.2 510.1,208.8 517.2,209.0 537.1,210.3 543.8,210.2 550.1,209.6 558.7,207.8 566.7,204.8 574.1,200.8 580.6,195.7 584.4,191.8 587.7,187.5 590.6,183.0 593.0,178.0 595.0,172.6 596.6,167.0 597.6,161.2 598.0,155.1 597.9,149.1 597.3,143.2 596.2,137.4 594.5,131.8 592.4,126.6 589.8,121.6 586.8,117.1 583.4,113.0 579.4,109.1 575.0,105.7 570.0,102.7 564.8,100.2 559.4,98.3 553.6,96.9 547.5,96.0 541.0,95.6 533.2,95.8 512.0,97.1 504.9,96.9 484.5,95.6 477.6,95.7 471.3,96.4 462.9,98.2 454.9,101.2 447.7,105.1 441.3,110.2 435.7,116.2 431.2,123.1 427.5,131.1 425.2,139.6 423.9,148.6 424.0,157.7 425.2,166.6 427.7,175.2 431.0,182.5 435.4,189.3 440.6,195.1 446.9,200.2 453.8,204.2 461.4,207.2 469.6,209.2 478.2,210.2ZM510.1,165.1 508.5,164.6 507.2,163.8 505.9,162.5 504.7,160.7 503.0,156.6 502.5,152.3 503.4,148.0 505.5,143.9 506.8,142.5 508.1,141.5 509.6,140.9 511.1,140.7 512.7,141.0 514.2,141.8 515.7,143.1 517.0,144.9 518.8,149.1 519.3,151.4 519.4,153.6 519.1,155.8 518.4,158.1 517.4,160.3 516.1,162.3 514.8,163.6 513.3,164.6 511.8,165.1 510.1,165.1ZM561.1,158.4 558.3,157.4 554.6,154.3 554.0,154.0 553.3,154.3 550.6,156.4 548.8,157.3 546.4,157.8 544.2,157.4 542.5,156.6 541.1,155.1 540.5,153.4 540.7,151.7 541.3,150.6 542.3,149.5 543.6,148.7 545.1,148.2 547.1,148.2 549.0,148.6 554.0,151.9 554.8,151.4 557.5,149.1 559.2,148.1 561.3,147.5 563.3,147.8 564.9,148.6 566.2,150.1 566.8,152.1 566.8,154.0 566.1,155.9 564.8,157.3 563.1,158.2 561.1,158.4ZM459.6,158.4 457.9,157.9 456.4,156.7 455.4,155.1 455.0,153.4 455.2,151.4 456.0,149.7 457.3,148.4 458.8,147.7 460.7,147.5 462.7,148.1 464.4,149.1 467.0,151.4 467.9,151.9 472.8,148.6 474.8,148.2 476.7,148.2 478.3,148.7 479.6,149.5 480.6,150.6 481.2,151.9 481.3,153.6 480.6,155.3 479.3,156.6 477.4,157.5 475.2,157.8 473.1,157.3 471.2,156.4 468.5,154.3 467.9,154.0 467.2,154.3 464.6,156.6 463.1,157.6 461.4,158.3 459.6,158.4Z" fill="#3dfdb2" fill-rule="evenodd"/>
<path d="M475.4,206.5 480.6,206.6 486.0,206.4 503.8,204.1 510.7,203.7 517.6,204.0 537.1,206.5 543.6,206.6 549.7,206.2 557.2,204.9 564.4,202.5 570.9,199.3 576.9,195.0 580.8,191.4 584.2,187.5 587.3,183.2 589.8,178.7 592.0,173.7 593.7,168.5 594.8,163.3 595.6,157.7 595.8,152.3 595.4,146.7 594.6,141.3 593.3,136.1 591.5,130.9 589.1,126.0 586.4,121.4 583.4,117.3 579.8,113.4 575.8,110.0 571.5,107.0 566.7,104.4 561.8,102.4 556.6,100.9 551.2,99.8 545.5,99.3 535.6,99.6 518.1,101.8 511.1,102.2 504.2,101.9 484.5,99.4 478.0,99.3 472.0,99.7 464.6,101.0 457.5,103.4 451.0,106.6 444.9,110.9 439.3,116.4 434.6,122.7 430.9,129.8 428.1,137.6 426.5,145.8 426.1,154.2 426.9,162.5 428.8,170.7 431.8,178.2 435.7,184.9 440.6,191.0 446.2,196.1 452.5,200.2 459.6,203.4 467.2,205.5 475.4,206.5ZM509.8,167.2 508.1,166.6 506.6,165.5 505.2,164.0 503.9,162.0 501.9,157.1 501.4,154.7 501.3,152.3 501.6,149.9 502.3,147.3 503.4,144.7 504.9,142.4 506.4,140.6 507.9,139.4 509.4,138.8 511.1,138.6 512.9,138.9 514.6,139.9 516.1,141.3 517.6,143.3 518.9,145.8 519.9,148.6 520.4,151.2 520.5,153.6 520.2,156.2 519.4,159.0 518.1,161.8 516.6,164.1 515.0,165.7 513.3,166.8 511.6,167.3 509.8,167.2ZM560.3,159.0 554.0,156.7 552.7,156.8 547.7,158.4 545.8,158.4 543.8,158.0 541.8,156.8 540.4,155.3 539.7,153.4 540.0,151.4 540.7,150.1 541.9,149.0 543.4,148.1 545.1,147.6 548.4,147.6 552.7,149.1 554.0,149.2 555.3,148.9 560.0,146.9 562.0,146.8 563.7,147.2 565.7,148.4 566.9,150.1 567.5,152.3 567.3,154.7 566.3,156.8 564.6,158.3 562.4,159.1 560.3,159.0ZM459.0,159.0 457.0,158.2 455.6,156.8 454.6,155.1 454.3,153.2 454.5,151.2 455.4,149.3 456.8,147.9 458.6,147.0 460.3,146.8 462.0,147.0 466.6,148.9 467.9,149.2 469.2,149.1 473.7,147.6 477.0,147.6 478.7,148.2 480.1,149.1 481.3,150.3 482.0,151.7 482.1,153.6 481.5,155.3 480.0,156.9 477.8,158.1 475.9,158.4 473.9,158.4 469.2,156.8 467.9,156.7 466.6,157.0 462.2,158.9 460.5,159.1 459.0,159.0Z" fill="#4effa0" fill-rule="evenodd"/>
<path d="M474.3,203.5 480.0,203.5 486.0,203.0 491.9,202.0 504.4,199.3 510.9,198.7 517.4,199.3 530.4,202.1 536.7,203.1 543.4,203.6 549.7,203.3 556.4,202.2 562.6,200.3 568.7,197.5 574.1,194.0 577.8,190.8 581.2,187.2 584.4,183.2 587.1,178.9 589.3,174.3 591.1,169.6 592.5,164.6 593.4,159.4 593.8,154.5 593.7,149.3 593.1,144.1 592.0,139.1 590.5,134.4 588.4,129.6 585.9,125.1 583.1,121.0 579.7,117.0 576.1,113.5 572.2,110.5 567.8,107.9 563.3,105.8 558.5,104.2 553.6,103.1 548.1,102.4 542.3,102.4 536.2,102.9 530.2,103.9 517.4,106.6 510.9,107.2 504.4,106.6 491.5,103.8 485.2,102.8 478.5,102.3 472.2,102.6 465.5,103.7 459.2,105.6 453.2,108.4 447.8,111.9 442.2,116.9 437.4,122.9 433.4,129.6 430.5,137.0 428.7,144.5 428.0,152.3 428.5,160.1 430.1,167.6 432.8,175.0 436.6,181.9 441.3,187.9 446.7,193.1 452.7,197.3 459.4,200.4 466.8,202.5 474.3,203.5ZM510.1,169.8 508.3,169.3 506.6,168.1 505.1,166.5 503.5,164.2 502.0,161.2 500.9,157.9 500.2,155.1 500.1,152.5 500.4,149.7 501.3,146.7 502.6,143.4 504.2,140.6 505.7,138.7 507.5,137.1 509.2,136.3 511.1,136.0 513.1,136.4 514.8,137.5 516.6,139.2 518.1,141.3 519.7,144.5 520.9,147.8 521.6,150.6 521.8,153.4 521.4,156.4 520.4,159.6 518.9,163.1 517.2,165.9 515.5,167.9 513.7,169.1 512.0,169.8 510.1,169.8ZM560.5,159.9 554.0,158.2 547.3,159.2 545.3,159.1 543.4,158.5 541.0,157.1 539.5,155.3 538.9,153.4 539.2,151.2 540.1,149.7 541.4,148.4 543.2,147.5 545.1,146.9 548.1,146.8 553.8,147.7 560.3,146.0 562.2,146.0 563.9,146.4 566.0,147.8 567.5,149.7 568.2,152.1 568.1,154.7 567.0,157.1 565.2,158.8 563.1,159.7 560.5,159.9ZM459.6,159.9 457.5,159.3 455.6,157.9 454.2,156.0 453.6,153.8 453.7,151.4 454.6,149.3 456.0,147.6 457.9,146.4 459.6,146.0 461.6,146.0 468.1,147.7 473.7,146.8 476.7,146.9 478.7,147.5 480.4,148.4 481.8,149.7 482.7,151.2 483.0,153.4 482.2,155.5 480.6,157.3 478.3,158.6 476.3,159.1 474.4,159.2 467.9,158.2 462.5,159.7 459.6,159.9Z" fill="#5eff8a" fill-rule="evenodd"/>
<path d="M475.3,200.9 481.3,200.7 487.6,199.7 493.8,198.0 505.5,194.2 508.3,193.6 510.9,193.4 513.5,193.6 516.3,194.2 528.7,198.2 535.6,199.9 542.7,200.8 549.7,200.7 555.5,199.9 561.3,198.2 566.7,195.8 571.7,192.7 575.4,189.8 578.9,186.4 582.0,182.8 584.8,178.7 587.1,174.5 589.0,170.0 590.4,165.5 591.5,160.7 592.0,156.0 592.1,151.2 591.6,146.5 590.8,141.7 589.5,137.2 587.7,132.6 585.4,128.3 582.9,124.4 579.7,120.4 576.3,116.9 572.4,113.6 568.3,110.9 563.9,108.7 559.4,107.0 554.6,105.8 549.7,105.2 542.7,105.1 535.6,106.0 528.7,107.7 516.3,111.7 513.5,112.3 510.9,112.5 508.3,112.3 505.5,111.7 493.2,107.7 486.3,106.0 479.3,105.1 472.4,105.1 466.4,106.0 460.7,107.6 455.3,110.0 450.1,113.2 444.5,117.9 439.5,123.6 435.5,130.1 432.5,137.0 430.5,144.3 429.8,151.7 430.1,159.0 431.6,166.3 434.3,173.5 438.0,180.1 442.8,186.2 448.2,191.3 454.2,195.3 460.7,198.3 467.9,200.2 475.3,200.9ZM509.8,173.0 508.1,172.4 506.4,171.0 504.7,169.0 503.0,166.3 501.2,162.5 499.8,158.6 499.0,155.3 498.8,152.5 499.2,149.5 500.3,145.8 502.1,141.5 504.0,137.9 505.7,135.5 507.5,134.0 509.2,133.0 511.1,132.7 513.1,133.2 514.8,134.3 516.6,136.0 518.3,138.7 520.4,142.8 522.0,147.1 522.8,150.4 523.0,153.4 522.6,156.6 521.4,160.5 519.5,165.0 517.4,168.7 515.7,170.8 513.7,172.4 511.8,173.1 509.8,173.0ZM560.9,160.7 554.2,159.4 546.8,159.9 544.7,159.6 542.7,159.0 540.3,157.5 538.5,155.3 537.9,153.2 538.3,151.0 539.3,149.4 540.8,148.0 542.7,146.9 544.9,146.2 547.9,146.0 553.8,146.5 560.9,145.2 562.6,145.3 564.4,145.8 566.5,147.2 568.1,149.3 568.9,151.9 568.8,154.7 567.7,157.3 565.9,159.2 563.5,160.4 560.9,160.7ZM460.5,160.7 457.9,160.3 455.7,159.0 454.0,157.1 453.0,154.5 452.9,151.9 453.7,149.3 455.3,147.2 457.5,145.8 459.2,145.3 460.9,145.2 468.1,146.5 473.9,146.0 477.0,146.2 479.1,146.9 481.0,148.0 482.6,149.4 483.5,151.0 483.9,153.2 483.3,155.3 481.6,157.5 479.1,159.0 477.2,159.6 475.0,159.9 467.7,159.4 462.7,160.5 460.5,160.7Z" fill="#75ff69" fill-rule="evenodd"/>
<path d="M471.7,198.3 476.1,198.5 480.6,198.2 485.2,197.4 489.7,196.2 497.1,193.1 508.1,186.6 510.7,185.7 512.0,185.9 513.5,186.5 522.3,191.8 528.7,194.9 534.9,197.0 541.4,198.2 548.6,198.4 555.5,197.5 562.2,195.4 568.5,192.2 572.2,189.6 575.6,186.7 578.9,183.3 581.7,179.7 584.2,175.8 586.3,172.0 588.0,167.6 589.3,163.3 590.1,159.0 590.4,154.5 590.4,149.9 589.8,145.4 588.9,141.1 587.5,136.8 585.6,132.6 583.5,128.8 580.6,124.7 577.1,120.7 573.4,117.3 569.3,114.3 565.0,111.8 560.7,109.9 555.9,108.5 551.2,107.7 546.6,107.4 541.9,107.6 537.1,108.4 532.6,109.6 525.0,112.6 520.8,114.9 513.7,119.3 511.1,120.2 509.8,120.0 508.3,119.4 499.6,114.1 493.2,111.0 486.9,108.9 480.4,107.7 473.3,107.5 466.4,108.4 459.6,110.5 453.4,113.7 447.7,117.9 442.7,122.9 438.4,128.7 435.1,135.0 432.8,141.7 431.6,148.6 431.5,155.5 432.4,162.5 434.5,169.4 437.6,175.8 441.7,181.8 446.7,187.1 452.3,191.5 458.3,194.8 464.8,197.1 471.7,198.3ZM510.1,178.9 508.3,177.9 506.6,176.1 504.9,173.6 503.1,170.4 498.5,159.0 497.6,155.5 497.4,152.7 497.7,149.7 498.8,146.0 501.4,139.4 503.8,134.2 505.5,131.3 507.5,128.8 509.2,127.4 510.9,126.8 512.7,127.4 514.4,128.8 516.3,131.3 518.3,134.6 520.7,139.9 523.2,146.5 524.2,150.1 524.5,153.2 524.1,156.4 522.9,160.3 520.0,167.6 517.6,172.5 515.7,175.5 513.5,177.9 511.8,178.9 510.1,178.9ZM559.0,161.4 553.8,160.5 546.0,160.6 543.8,160.1 541.7,159.3 539.1,157.5 537.4,155.3 536.8,153.0 537.4,150.6 538.7,148.8 540.4,147.3 542.7,146.1 545.1,145.5 547.9,145.2 553.8,145.4 560.9,144.4 563.3,144.6 565.2,145.3 567.6,147.2 569.3,149.9 569.8,153.2 569.2,156.2 567.6,158.7 565.2,160.6 562.4,161.5 559.0,161.4ZM459.0,161.4 456.4,160.5 454.3,158.8 452.7,156.4 452.1,153.8 452.3,151.0 453.3,148.4 454.9,146.5 457.3,145.0 459.2,144.5 461.2,144.4 468.1,145.4 474.1,145.2 477.2,145.6 479.6,146.3 481.7,147.6 483.6,149.3 484.6,151.0 485.0,153.4 484.2,155.8 482.1,158.0 479.3,159.7 475.4,160.6 468.5,160.4 462.0,161.5 459.0,161.4Z" fill="#98ff40" fill-rule="evenodd"/>
<path d="M473.6,196.2 478.7,196.0 483.9,195.2 488.9,193.7 493.6,191.4 497.6,188.8 500.7,185.8 502.5,182.8 503.0,179.7 502.8,177.1 502.0,173.7 496.4,157.1 495.7,153.0 496.3,149.1 500.4,137.6 502.5,130.3 503.0,126.4 502.5,123.1 501.2,120.8 499.0,118.3 496.1,116.0 492.5,113.9 488.9,112.2 484.7,110.9 480.6,110.1 476.3,109.7 472.2,109.8 468.3,110.3 464.4,111.2 460.5,112.6 456.8,114.3 453.2,116.5 449.7,119.0 446.4,121.9 443.4,125.1 440.9,128.3 438.7,131.8 436.7,135.6 435.2,139.5 434.1,143.4 433.3,147.6 433.0,151.7 433.1,155.8 433.5,159.9 434.4,164.0 435.7,167.9 437.3,171.5 439.3,175.2 441.7,178.7 444.4,181.9 447.4,184.9 450.8,187.7 454.2,190.1 457.9,192.1 461.6,193.7 465.5,195.0 469.6,195.8 473.6,196.2ZM459.2,162.3 456.4,161.4 453.9,159.6 452.2,157.3 451.3,154.2 451.3,151.2 452.4,148.2 454.4,145.8 456.8,144.3 459.0,143.7 461.4,143.5 468.1,144.4 474.4,144.5 477.4,144.9 480.2,145.8 482.6,147.2 484.7,149.1 486.0,151.0 486.4,153.4 485.4,156.0 483.0,158.4 479.8,160.3 477.6,161.0 475.2,161.4 468.7,161.5 462.2,162.3 459.2,162.3ZM545.2,196.2 549.2,196.1 553.3,195.6 557.2,194.7 561.1,193.4 565.0,191.6 568.6,189.5 572.2,186.9 575.4,184.1 578.4,180.8 581.0,177.6 583.2,174.1 585.1,170.3 586.7,166.4 587.8,162.5 588.5,158.4 588.9,154.2 588.8,150.1 588.3,146.0 587.4,141.9 586.2,138.0 584.5,134.2 582.4,130.5 580.0,127.0 577.4,123.9 574.3,120.8 570.9,118.0 567.4,115.7 563.7,113.6 559.8,112.0 555.9,110.8 552.0,110.1 547.9,109.7 542.7,109.9 537.8,110.8 532.8,112.3 528.2,114.5 524.1,117.2 521.2,120.1 519.4,123.1 518.8,126.2 519.0,128.8 519.8,132.2 525.4,148.8 526.2,153.0 525.5,156.8 521.5,168.3 519.3,175.6 518.8,179.5 519.4,182.8 520.7,185.1 522.8,187.5 525.7,189.9 529.1,191.9 532.8,193.6 536.9,194.9 541.0,195.7 545.2,196.2ZM558.7,162.2 553.6,161.5 545.8,161.3 543.4,160.7 541.0,159.8 538.0,157.7 536.1,155.3 535.5,153.0 536.1,150.6 537.5,148.6 539.7,146.9 542.1,145.6 544.9,144.8 547.7,144.4 553.8,144.4 560.7,143.5 563.3,143.8 565.7,144.6 568.3,146.7 570.1,149.7 570.7,153.2 570.0,156.4 568.3,159.2 565.7,161.3 562.4,162.3 558.7,162.2Z" fill="#dffe0c" fill-rule="evenodd"/>
<path d="M471.5,193.8 476.7,193.9 481.7,193.2 486.7,191.8 491.0,189.8 494.7,187.2 497.4,184.3 499.1,181.0 499.9,177.4 499.7,173.0 498.6,167.9 496.9,162.5 493.7,155.1 493.3,153.0 493.8,150.6 497.6,141.3 499.2,135.7 499.9,129.6 499.7,127.2 499.2,125.1 498.1,122.7 496.4,120.3 494.0,118.2 491.5,116.4 488.2,114.7 484.7,113.4 481.1,112.5 477.4,112.1 473.7,112.0 469.8,112.3 466.1,113.1 462.5,114.2 458.8,115.8 455.1,117.7 451.6,120.1 448.4,122.7 445.6,125.5 443.0,128.5 440.7,131.8 438.8,135.2 437.2,138.9 436.0,142.6 435.2,146.3 434.7,150.1 434.6,154.0 434.9,157.9 435.6,161.8 436.6,165.5 438.0,169.1 439.7,172.5 441.9,175.8 444.2,178.9 447.0,181.9 450.1,184.7 453.4,187.0 456.8,189.1 460.5,190.9 464.1,192.3 467.9,193.2 471.5,193.8ZM459.0,163.1 455.7,162.1 453.2,160.2 451.2,157.5 450.3,154.2 450.4,150.8 451.6,147.8 453.7,145.2 456.6,143.4 459.0,142.8 461.8,142.6 468.5,143.4 475.0,143.7 478.0,144.2 481.2,145.4 484.1,147.1 486.8,149.5 488.2,151.7 488.4,152.7 488.3,153.8 486.8,156.4 483.8,159.0 480.0,161.0 477.6,161.8 475.0,162.2 468.3,162.5 462.0,163.2 459.0,163.1ZM543.6,193.8 547.5,193.9 551.2,193.7 555.1,193.0 558.7,191.9 562.4,190.5 566.1,188.5 569.7,186.2 573.0,183.6 576.1,180.7 578.7,177.7 581.0,174.3 583.0,170.9 584.6,167.2 585.8,163.5 586.7,159.6 587.2,155.8 587.2,151.7 586.9,147.8 586.2,143.9 585.2,140.2 583.7,136.5 581.9,133.1 579.8,129.8 577.4,126.7 574.5,123.7 571.3,120.9 567.8,118.4 564.4,116.4 560.7,114.7 557.0,113.4 553.3,112.5 549.4,112.1 544.5,112.1 539.5,112.8 534.7,114.2 530.4,116.4 526.9,118.9 524.3,121.8 522.7,125.1 522.0,128.5 522.2,132.9 523.2,138.0 525.0,143.4 528.1,150.8 528.5,153.0 528.0,155.3 524.2,164.6 522.7,170.2 522.0,176.3 522.1,178.7 522.7,180.8 523.7,183.2 525.3,185.4 527.5,187.5 530.2,189.4 533.2,191.0 536.5,192.3 539.9,193.2 543.6,193.8ZM558.3,163.1 553.6,162.5 545.8,162.0 543.2,161.5 540.6,160.5 537.2,158.4 534.6,155.8 533.5,153.6 533.4,152.5 533.8,151.4 535.5,149.1 538.0,146.9 541.0,145.2 544.2,144.1 547.1,143.7 553.3,143.4 560.5,142.6 563.3,142.9 565.9,143.7 567.6,144.7 568.9,145.9 570.9,149.1 571.6,152.7 571.5,154.7 571.0,156.6 570.1,158.4 569.0,159.9 566.1,162.1 562.6,163.2 558.3,163.1Z" fill="#ffd500" fill-rule="evenodd"/>
<path d="M472.2,191.6 475.7,191.7 478.9,191.4 482.1,190.8 485.4,189.8 488.4,188.4 491.0,186.7 493.2,184.9 495.0,182.8 496.2,180.6 497.1,178.2 497.6,175.6 497.7,172.8 497.3,169.6 496.6,166.3 495.5,163.1 494.0,160.2 491.9,157.6 491.0,157.1 489.9,157.0 488.2,157.6 481.9,161.1 477.6,162.6 462.7,164.1 458.6,164.0 456.6,163.5 454.7,162.6 452.9,161.4 451.6,160.1 450.5,158.4 449.6,156.4 449.2,154.5 449.1,152.3 449.4,150.4 450.0,148.4 451.0,146.7 452.2,145.2 455.3,142.9 459.2,141.8 462.9,141.8 474.8,142.9 477.8,143.4 482.1,144.9 488.2,148.3 489.9,148.9 491.7,148.5 493.4,146.7 494.8,144.3 496.0,141.3 496.9,138.3 497.5,135.0 497.7,132.0 497.5,129.4 496.9,127.0 496.0,124.9 494.7,122.7 493.0,120.8 490.8,119.0 488.4,117.5 485.7,116.2 482.8,115.3 476.5,114.2 473.1,114.2 469.4,114.6 465.7,115.4 462.2,116.6 458.6,118.2 455.1,120.1 451.9,122.4 448.8,124.9 446.2,127.5 443.8,130.5 441.7,133.5 440.0,136.8 438.5,140.2 437.5,143.7 436.7,147.3 436.4,150.8 436.3,154.5 436.7,158.1 437.4,161.8 438.4,165.3 439.8,168.7 441.5,172.0 445.7,177.8 448.4,180.6 451.2,183.0 454.5,185.4 457.9,187.4 461.4,189.0 465.1,190.3 468.5,191.1 472.2,191.6ZM544.6,191.6 548.1,191.7 551.8,191.4 555.5,190.6 559.0,189.6 562.6,188.0 566.1,186.2 569.6,183.9 572.6,181.4 575.4,178.7 577.8,175.8 579.9,172.8 581.7,169.6 583.2,166.1 584.3,162.7 585.1,159.0 585.5,155.1 585.5,151.2 585.2,147.6 584.5,144.1 583.4,140.4 582.0,137.0 580.3,133.7 578.2,130.6 575.8,127.7 573.0,124.9 570.0,122.4 566.7,120.1 563.3,118.2 559.8,116.7 556.1,115.4 552.5,114.6 549.0,114.2 545.5,114.2 542.3,114.6 539.1,115.3 536.0,116.3 533.2,117.6 530.6,119.3 528.5,121.2 526.7,123.4 525.5,125.5 524.7,127.9 524.2,130.5 524.2,133.3 524.6,136.5 525.3,139.8 526.5,143.0 527.8,145.7 530.0,148.3 530.8,148.8 531.9,148.9 533.6,148.3 539.9,144.8 544.2,143.3 559.2,141.8 563.3,141.9 565.2,142.4 567.2,143.3 568.9,144.5 570.2,145.8 571.4,147.6 572.2,149.5 572.7,151.4 572.8,153.6 572.5,155.5 571.8,157.5 570.9,159.2 569.6,160.7 566.5,163.0 562.6,164.1 559.0,164.1 547.1,163.0 544.0,162.5 539.7,161.0 533.6,157.6 531.9,157.0 530.4,157.3 528.7,158.9 527.2,161.4 526.0,164.2 525.0,167.2 524.4,170.4 524.2,173.5 524.3,176.1 524.8,178.4 525.7,180.8 527.0,183.0 528.7,184.9 530.7,186.6 533.0,188.1 538.4,190.5 544.6,191.6Z" fill="#ffa000" fill-rule="evenodd"/>
<path d="M472.3,189.5 478.5,189.3 484.1,187.8 486.7,186.6 489.1,185.2 491.0,183.5 492.7,181.7 493.9,179.7 494.9,177.5 495.5,175.2 495.8,172.6 495.6,169.8 495.1,167.0 494.2,164.4 493.1,162.2 491.0,160.1 488.9,159.6 486.9,160.1 480.2,162.7 476.3,163.7 462.2,165.2 457.5,164.8 455.3,164.2 453.4,163.2 451.6,161.9 450.1,160.3 448.9,158.4 448.1,156.4 447.7,154.2 447.6,152.3 448.5,148.4 450.7,145.0 452.3,143.4 453.9,142.4 457.9,141.0 462.5,140.8 476.5,142.3 480.6,143.3 486.7,145.7 488.6,146.2 490.8,145.9 492.6,144.3 493.8,142.4 494.8,140.0 495.8,134.8 495.7,132.2 495.3,129.8 494.6,127.7 493.6,125.6 492.3,123.8 490.6,122.0 486.5,119.1 481.5,117.2 475.9,116.4 472.6,116.4 469.2,116.8 465.7,117.6 462.2,118.8 458.8,120.3 455.5,122.2 449.7,126.6 445.1,131.8 443.2,134.7 441.6,137.8 439.3,144.3 438.3,151.2 438.7,158.2 439.3,161.6 440.3,165.0 443.3,171.3 447.3,176.8 452.5,181.7 458.8,185.6 465.5,188.2 468.9,189.0 472.3,189.5ZM545.2,189.5 548.6,189.5 552.0,189.2 555.5,188.5 559.0,187.4 562.4,185.9 565.7,184.1 568.9,182.0 571.7,179.7 574.3,177.1 576.6,174.3 578.5,171.5 580.2,168.4 581.5,165.0 582.5,161.6 583.5,154.7 583.2,147.6 582.5,144.1 581.5,140.7 580.2,137.5 578.5,134.4 574.3,128.8 571.7,126.2 568.9,123.9 562.6,120.1 559.2,118.6 555.7,117.5 552.3,116.8 548.8,116.4 542.7,116.7 537.3,118.2 534.8,119.5 532.6,120.9 530.6,122.6 529.0,124.4 527.7,126.6 526.8,128.8 526.3,131.1 526.1,133.7 526.3,136.5 526.8,139.1 527.7,141.7 528.9,143.9 530.8,145.8 533.0,146.3 534.9,145.8 541.7,143.2 545.5,142.2 559.6,140.7 564.4,141.1 566.5,141.7 568.5,142.7 570.2,144.0 571.7,145.6 572.9,147.6 573.7,149.5 574.2,151.7 574.2,153.6 573.9,155.5 573.2,157.7 572.3,159.4 571.0,161.2 567.8,163.6 565.9,164.4 563.7,165.0 559.2,165.1 545.3,163.6 541.2,162.6 535.2,160.2 533.2,159.7 531.0,160.0 529.3,161.5 528.2,163.1 527.2,165.5 526.1,170.7 526.1,173.3 526.4,175.6 527.0,177.8 528.0,180.0 529.3,181.9 530.9,183.6 534.9,186.5 539.7,188.5 545.2,189.5Z" fill="#ff6c00" fill-rule="evenodd"/>
<path d="M471.6,187.3 477.2,187.2 482.4,186.1 486.9,183.9 490.4,180.8 491.8,178.9 492.8,176.9 493.5,174.8 493.9,172.4 493.9,170.0 493.5,167.6 492.8,165.5 491.7,163.8 489.9,162.2 487.6,161.7 485.4,162.1 478.9,164.1 474.8,164.8 461.8,166.2 458.8,166.2 456.2,165.8 453.8,165.0 451.6,163.9 449.7,162.5 448.1,160.7 446.7,158.8 445.9,156.8 445.3,154.5 445.2,152.3 445.5,150.1 446.3,148.0 447.4,146.0 448.8,144.3 452.3,141.6 454.5,140.6 456.6,140.0 459.2,139.7 462.0,139.7 475.0,141.1 478.9,141.8 485.4,143.8 487.6,144.2 489.7,143.8 491.4,142.6 492.4,141.1 493.2,139.1 493.9,134.8 493.3,130.5 491.7,126.8 488.9,123.5 485.2,121.0 480.8,119.3 475.9,118.5 469.6,118.9 463.1,120.6 457.0,123.5 451.6,127.5 447.3,132.2 444.2,137.4 442.3,143.0 441.3,149.5 441.4,157.5 442.5,163.8 444.8,169.6 448.2,174.8 452.9,179.5 458.6,183.3 465.1,186.0 471.6,187.3ZM545.1,187.3 548.1,187.4 551.4,187.2 557.9,185.7 564.2,182.8 569.7,178.9 574.1,174.2 577.4,168.9 579.5,163.1 580.5,156.6 580.5,148.6 579.4,142.4 577.1,136.4 573.7,131.1 571.4,128.5 568.7,126.2 562.9,122.4 559.6,120.9 556.1,119.7 552.7,118.9 549.4,118.5 544.0,118.7 539.1,120.0 534.7,122.2 531.2,125.3 530.0,127.1 528.9,129.2 528.3,131.4 527.9,133.7 528.0,136.1 528.4,138.5 529.2,140.6 530.2,142.3 532.1,143.8 534.3,144.2 536.5,143.8 542.9,141.8 547.1,141.1 560.0,139.7 563.1,139.7 565.7,140.1 568.0,140.9 570.2,142.0 572.2,143.4 573.8,145.2 575.1,147.1 576.0,149.1 576.6,151.4 576.7,153.6 576.3,155.8 575.5,157.9 574.4,159.9 573.0,161.6 569.6,164.3 567.4,165.3 565.2,165.9 562.6,166.2 559.8,166.2 546.8,164.8 542.7,164.0 534.5,161.8 532.3,162.0 530.6,163.1 529.5,164.6 528.8,166.3 527.9,170.7 528.4,175.0 530.0,178.8 532.6,182.0 536.0,184.5 540.4,186.4 545.1,187.3Z" fill="#ff5200" fill-rule="evenodd"/>
<path d="M473.0,185.4 477.8,185.0 482.4,183.8 486.2,181.7 489.2,178.9 491.2,175.2 492.0,171.3 491.9,169.4 491.4,167.4 490.6,165.8 489.5,164.6 487.8,163.8 485.6,163.7 475.9,165.6 460.5,167.5 455.7,167.3 449.5,166.0 448.6,166.1 448.0,166.5 447.7,167.4 447.9,168.9 449.6,172.6 452.2,176.1 455.7,179.2 459.6,181.7 464.0,183.6 468.5,184.8 473.0,185.4ZM547.2,185.4 551.8,185.1 556.6,184.0 561.1,182.3 565.4,179.7 569.2,176.5 572.2,172.8 573.9,169.2 574.1,167.6 573.9,166.5 573.2,166.1 572.4,166.0 565.9,167.4 561.1,167.5 545.8,165.6 536.5,163.7 534.3,163.7 532.6,164.4 531.5,165.5 530.6,167.0 530.1,168.7 529.9,170.7 530.4,174.6 532.2,178.2 534.9,181.1 538.4,183.3 542.5,184.7 547.2,185.4ZM484.9,142.2 486.9,142.3 488.6,141.8 489.9,140.9 490.9,139.6 491.7,137.6 492.0,135.2 491.8,132.9 491.2,130.5 489.1,126.9 485.8,123.9 481.7,121.8 476.7,120.7 472.2,120.6 467.4,121.3 462.9,122.7 458.5,124.9 454.5,127.7 451.3,130.9 448.8,134.6 447.7,137.8 447.9,139.3 448.8,139.9 456.2,138.5 461.2,138.4 476.1,140.3 484.9,142.2ZM534.1,142.2 536.9,142.2 545.8,140.3 560.9,138.4 565.7,138.5 573.0,139.9 573.9,139.3 574.1,137.8 573.0,134.6 570.6,130.9 567.4,127.7 563.4,124.9 559.0,122.7 554.4,121.3 549.9,120.6 545.3,120.7 540.8,121.6 536.9,123.4 533.6,126.0 531.3,129.2 530.5,131.1 530.0,133.3 529.9,135.5 530.1,137.4 530.7,139.1 531.7,140.6 532.8,141.6 534.1,142.2Z" fill="#ff4700" fill-rule="evenodd"/>
<path d="M470.6,183.2 475.2,183.3 479.3,182.6 483.0,181.1 486.0,179.0 488.4,176.1 489.7,172.8 489.7,169.6 489.2,168.1 488.4,166.9 487.5,166.1 486.3,165.6 483.2,165.6 456.4,169.6 454.0,170.4 453.4,171.7 453.9,173.7 455.7,176.1 458.0,178.2 460.7,180.0 464.0,181.5 467.2,182.6 470.6,183.2ZM545.6,183.2 549.4,183.3 553.3,182.9 557.2,181.8 560.8,180.2 564.1,178.0 566.8,175.4 568.3,172.8 568.4,171.7 568.2,170.9 567.4,170.2 565.7,169.7 539.5,165.7 536.5,165.5 534.5,166.1 533.5,166.8 532.8,167.8 532.0,170.4 532.3,173.5 533.7,176.5 535.8,179.0 538.6,181.0 541.9,182.4 545.6,183.2ZM484.4,140.4 487.1,140.0 488.2,139.2 489.1,138.1 489.6,136.8 489.8,135.0 489.3,131.7 487.7,128.8 485.2,126.2 481.9,124.2 478.3,123.0 474.6,122.6 470.9,122.7 467.0,123.4 463.3,124.6 459.9,126.4 456.7,128.8 454.6,131.1 453.5,133.5 453.4,134.4 453.8,135.2 455.5,136.1 484.4,140.4ZM537.0,140.4 539.7,140.2 566.1,136.2 568.1,135.2 568.4,134.4 568.4,133.5 567.2,131.1 565.1,128.8 562.0,126.4 558.5,124.6 554.8,123.4 551.0,122.7 547.3,122.6 543.6,123.0 539.9,124.2 536.7,126.2 534.3,128.5 532.7,131.4 532.0,134.8 532.6,137.8 533.3,138.9 534.3,139.7 535.4,140.2 537.0,140.4Z" fill="#ff3c00" fill-rule="evenodd"/>
<path d="M471.9,181.2 475.4,181.2 478.7,180.5 481.7,179.3 484.1,177.6 486.0,175.4 487.1,173.0 487.2,170.7 486.3,168.7 485.2,167.9 483.7,167.5 478.7,167.7 466.0,169.8 461.4,171.1 459.4,172.2 458.7,173.3 458.8,174.6 459.7,176.1 461.6,177.8 463.8,179.1 466.4,180.2 469.2,180.9 471.9,181.2ZM547.2,181.2 550.1,181.2 553.1,180.8 555.9,180.0 558.5,178.9 560.8,177.4 562.5,175.6 563.2,174.1 563.0,172.8 561.9,171.7 559.8,170.9 551.8,169.0 540.6,167.4 538.2,167.5 536.5,168.0 535.1,169.4 534.6,171.5 535.1,173.9 536.5,176.3 538.5,178.2 541.0,179.7 544.0,180.8 547.2,181.2ZM481.2,138.5 484.1,138.4 486.0,137.4 487.1,135.7 487.1,133.3 486.3,130.9 484.4,128.5 481.9,126.7 478.9,125.4 476.1,124.8 473.1,124.6 470.0,124.9 467.0,125.5 464.2,126.6 461.6,128.1 459.7,129.8 458.7,131.6 458.7,132.6 459.4,133.7 462.7,135.2 470.1,137.0 481.2,138.5ZM538.6,138.5 541.9,138.4 549.0,137.4 558.4,135.5 561.0,134.6 562.5,133.7 563.2,132.6 563.1,131.6 562.3,130.1 560.5,128.3 558.1,126.8 555.1,125.6 552.3,124.9 549.2,124.6 546.2,124.7 543.4,125.3 540.6,126.4 538.0,128.1 536.1,130.1 535.0,132.2 534.6,134.6 535.1,136.5 536.5,137.9 538.6,138.5Z" fill="#ff3500" fill-rule="evenodd"/>
<path d="M471.7,178.9 474.4,178.9 476.7,178.6 478.9,177.9 480.8,176.8 482.4,175.4 483.4,173.8 483.8,172.2 483.3,170.9 482.4,170.1 481.1,169.7 476.7,169.7 469.8,170.9 467.1,171.7 465.4,172.6 464.4,173.5 464.1,174.3 464.2,175.2 465.0,176.3 467.9,178.0 471.7,178.9ZM547.0,178.9 551.2,178.7 554.9,177.6 556.3,176.7 557.4,175.6 557.8,174.6 557.6,173.7 556.8,172.8 555.3,172.0 550.1,170.4 543.2,169.6 541.0,169.7 539.5,170.1 538.4,171.1 538.1,172.4 538.4,173.9 539.4,175.4 540.9,176.7 542.7,177.8 544.7,178.4 547.0,178.9ZM478.0,136.3 480.4,136.3 482.2,135.9 483.3,135.0 483.8,133.7 483.4,132.1 482.4,130.5 480.8,129.1 478.7,128.0 474.6,127.0 470.2,127.2 466.4,128.6 465.0,129.6 464.2,130.7 464.1,131.8 464.6,132.6 467.1,134.2 471.8,135.5 478.0,136.3ZM541.6,136.3 547.5,135.9 553.6,134.6 555.7,133.7 557.0,132.9 557.7,132.0 557.7,130.9 557.0,129.8 555.7,128.8 552.0,127.3 547.9,127.0 543.8,127.7 541.9,128.6 540.1,129.8 538.9,131.1 538.2,132.6 538.1,134.2 538.7,135.2 539.9,136.0 541.6,136.3Z" fill="#ac0c00" fill-rule="evenodd"/>
</g></g>
<g clip-path="url(#cb)" fill="none" stroke="#000" stroke-width="0.68" stroke-linecap="butt" stroke-linejoin="round">
<path d="M381.1,66.2 388.5,38.9 392.6,23.4M392.6,282.6 388.5,267.0 381.1,239.7M381.1,118.1 384.1,103.7 388.3,87.9 392.7,73.7 403.7,40.2 408.8,23.4M410.1,282.6 405.1,265.9 393.3,230.7 388.5,215.4 386.2,206.7 384.1,198.3 382.4,190.3 381.1,182.5M427.7,282.7 424.3,272.1 420.2,261.0 403.0,218.3 399.7,209.2 397.0,200.6 393.9,188.5 391.7,176.9 390.4,165.2 389.9,153.8 390.3,142.0 391.5,130.1 393.7,118.3 396.8,105.9 399.6,97.1 402.9,87.8 406.9,77.4 420.2,44.9 424.3,33.8 427.7,23.2M445.2,282.7 441.2,271.4 436.4,260.1 431.1,249.1 420.0,227.9 415.3,218.5 410.8,208.6 407.2,199.3 403.5,187.8 400.9,176.4 399.3,165.0 398.8,153.8 398.9,147.8 399.2,142.2 400.6,130.8 401.8,125.0 403.2,119.1 406.8,107.5 410.5,98.0 415.0,87.8 419.7,78.4 430.9,56.7 436.2,45.6 440.9,34.4 444.8,23.1M462.2,282.7 459.9,276.0 457.4,269.5 454.5,263.2 451.3,256.9 444.7,245.9 431.0,225.4 425.4,216.5 420.0,207.0 415.6,197.8 413.3,192.2 411.4,186.8 409.8,181.4 408.4,175.8 407.3,170.2 406.6,164.6 406.1,159.0 406.0,153.4 406.1,147.6 406.5,142.0 407.2,136.4 408.3,130.8 409.6,125.2 411.2,119.6 413.1,114.1 415.4,108.5 419.8,99.3 425.3,89.5 431.0,80.5 444.8,59.8 451.4,48.8 454.6,42.5 457.5,36.2 459.9,29.9 462.2,23.2M479.2,282.7 476.9,274.5 474.2,266.9 470.9,260.0 467.0,253.3 463.3,248.1 459.0,242.6 442.0,223.4 434.9,214.7 428.4,205.6 423.0,196.3 420.5,191.1 418.3,185.9 416.5,180.5 414.9,175.1 413.8,169.7 412.9,164.1 412.4,158.8 412.3,153.2 412.4,147.6 412.9,142.2 413.7,136.6 414.8,131.2 416.3,125.8 418.2,120.4 420.4,115.0 422.9,109.8 428.2,100.6 434.9,91.2 442.0,82.5 459.0,63.3 463.3,57.8 467.0,52.6 470.9,45.9 474.2,39.0 476.9,31.4 479.2,23.2M496.6,23.4 494.5,34.6 493.3,39.3 492.0,43.6 490.5,47.4 488.8,51.1 486.8,54.5 484.6,57.6 481.1,61.7 477.1,65.5 453.2,84.6 447.0,90.1 441.4,95.7M495.8,282.5 494.0,271.4 492.8,266.6 491.5,262.3 490.0,258.3 488.4,254.7 486.5,251.3 484.4,248.2 480.8,243.8 476.0,239.3 470.8,235.0 452.8,221.2 446.7,215.9 441.5,210.8 435.5,203.9 429.5,195.6 425.6,189.5 422.4,183.1M506.1,23.4 505.0,37.2 503.5,47.6 502.7,51.7 501.6,55.4 500.4,58.5 499.0,61.3 497.5,63.5 495.7,65.6 493.6,67.5 491.0,69.4 484.1,73.3 473.9,77.9M510.8,248.8 510.4,241.7 509.4,237.2 507.3,233.8 503.0,232.0 497.0,230.6 489.8,229.5 476.8,225.5 468.7,222.5 461.3,218.6 454.5,214.4 448.9,209.6 443.9,204.7 436.7,196.3 433.5,192.0 430.0,186.5 427.0,180.5 424.6,174.3 422.8,167.9 421.9,161.1 421.5,154.2 421.9,146.1 423.1,138.1 425.3,130.4 428.3,123.1 432.0,116.2 436.5,109.8 441.2,104.5 445.2,100.4 448.7,97.1 453.7,93.0 460.5,88.9 467.9,85.3 476.0,82.2 484.0,79.9 492.7,78.2 507.2,76.9 510.6,76.4M472.0,204.4 467.7,203.8 463.3,202.7 459.0,201.0 455.0,198.9 450.9,196.3 447.2,193.4 443.8,190.2 440.8,186.7 438.0,182.8 435.7,178.7 433.6,174.4 432.0,169.9 430.8,165.2 430.0,160.5 429.6,155.5 429.6,150.4 430.0,145.4 430.8,140.7 432.0,136.0 433.6,131.5 435.7,127.2 438.0,123.1 440.8,119.2 443.8,115.7 447.2,112.5 450.9,109.6 455.0,107.0 459.0,104.9 463.3,103.2 467.4,102.2 471.8,101.5 475.9,101.4 479.6,101.8 483.1,102.6 486.4,103.9 489.2,105.5 491.9,107.6 494.3,110.0 496.5,112.9 498.5,116.3 500.1,120.0 501.6,124.1 502.7,128.7 503.7,133.9 504.4,139.5 504.9,145.6 505.1,152.3 505.0,157.9 504.7,163.8 504.1,169.4 503.3,174.4 502.3,179.2 501.0,183.5 499.6,187.3 497.9,190.7 496.0,193.7 493.9,196.4 491.4,198.7 488.7,200.7 485.7,202.3 482.6,203.4 479.1,204.2 475.7,204.5 472.0,204.4M467.0,189.7 464.0,189.1 461.0,188.2 458.0,187.0 455.2,185.5 452.6,183.7 450.1,181.6 447.8,179.1 445.6,176.5 443.7,173.6 442.1,170.5 440.8,167.3 439.8,164.1 439.0,160.6 438.6,157.2 438.5,150.0 438.8,146.5 439.5,143.1 440.4,139.7 441.7,136.5 443.1,133.5 444.9,130.5 446.9,127.8 449.0,125.4 451.5,123.1 454.1,121.1 456.9,119.4 459.7,118.1 462.5,117.2 465.5,116.5 468.5,116.1 471.5,116.1 474.4,116.4 477.2,117.1 479.9,118.1 482.5,119.5 484.9,121.2 487.1,123.1 489.1,125.4 490.9,127.8 492.5,130.5 493.9,133.6 495.1,136.9 496.1,140.5 496.9,144.5 497.4,148.4 497.6,152.7 497.5,156.0 496.5,163.6 495.7,167.1 494.6,170.6 493.3,173.7 491.8,176.7 490.1,179.3 488.2,181.7 486.0,183.8 483.6,185.7 481.2,187.1 478.5,188.3 475.7,189.2 472.9,189.7 470.0,189.8 467.0,189.7M466.1,172.6 462.9,171.7 459.8,170.1 457.0,167.9 454.8,165.1 452.9,161.8 451.8,158.4 451.3,154.8 451.3,150.6 451.9,147.0 453.1,143.6 455.0,140.5 457.2,137.8 460.0,135.7 463.1,134.1 466.4,133.3 469.6,133.2 472.9,133.9 476.0,135.2 478.9,137.4 481.2,140.0 483.1,143.3 484.5,147.0 485.2,151.0 485.3,154.7 484.6,158.7 483.2,162.4 481.3,165.7 478.9,168.5 476.0,170.7 472.9,172.0 469.6,172.7 466.1,172.6M451.3,153.7 450.8,169.9M511.5,23.4 511.5,282.6M640.8,65.0 633.7,38.9 629.6,23.4M629.2,282.6 633.3,267.0 640.8,239.6M640.8,118.0 637.7,103.5 633.6,87.9 629.2,73.7 618.1,40.2 613.1,23.4M611.9,282.6 616.9,265.9 628.6,230.9 633.3,215.8 637.7,199.0 639.4,191.0 640.8,183.1M594.3,282.7 597.8,272.3 601.8,261.5 619.2,219.1 622.6,209.6 625.5,200.7 628.7,188.4 631.0,176.5 632.3,164.6 632.8,153.0 632.3,141.1 630.8,129.2 628.5,117.3 625.2,105.0 622.2,95.9 618.7,86.5 614.4,75.9 601.0,44.5 596.9,33.7 593.4,23.5M576.6,282.5 580.6,271.9 585.3,261.2 590.7,250.2 602.1,228.8 606.9,219.4 611.7,209.2 615.5,199.7 619.2,188.0 620.7,182.2 622.0,176.3 622.9,170.5 623.6,164.6 624.0,158.8 624.2,153.0 624.0,147.1 623.6,141.3 622.9,135.4 621.9,129.6 620.7,123.7 619.2,117.9 615.4,106.1 611.5,96.5 606.7,86.4 602.0,77.2 590.3,55.4 584.9,44.6 580.3,34.1 576.3,23.5M559.7,282.4 562.0,275.9 564.5,269.9 567.4,263.9 570.6,257.9 577.3,246.9 591.2,226.5 596.8,217.7 602.4,208.0 607.0,198.7 609.3,193.0 611.4,187.4 613.1,181.8 614.5,175.9 615.6,170.3 616.4,164.4 616.9,158.8 617.1,153.0 616.9,147.1 616.4,141.5 615.6,135.6 614.5,130.0 613.0,124.1 611.3,118.5 609.3,112.9 606.9,107.3 602.4,98.0 596.7,88.3 590.8,79.1 577.0,58.9 570.4,48.2 567.1,42.1 564.2,36.1 561.7,30.1 559.3,23.6M542.3,282.3 544.8,274.3 547.7,267.1 551.0,260.5 555.0,254.0 558.5,249.1 562.8,243.8 579.9,224.8 587.1,216.2 593.9,206.8 596.8,202.2 599.5,197.4 602.2,192.0 604.5,186.8 606.4,181.4 608.0,175.8 609.3,170.1 610.3,164.5 610.8,158.8 611.1,153.0 610.8,147.1 610.3,141.4 609.3,135.8 608.0,130.1 606.4,124.5 604.5,119.1 602.2,113.9 599.5,108.5 596.8,103.7 593.9,99.1 587.1,89.7 579.9,81.1 562.8,62.1 558.5,56.8 555.0,51.9 551.0,45.4 547.7,38.8 544.8,31.6 542.3,23.6M526.2,282.4 528.4,271.7 529.6,267.1 531.1,262.8 532.7,258.9 534.5,255.3 536.5,252.0 538.8,248.8 542.7,244.3 547.4,239.9 552.3,235.9 568.0,223.8 573.1,219.5 577.6,215.3 582.2,210.6 586.4,205.9 590.1,201.0 593.6,195.8 596.4,190.8 598.9,185.7 601.0,180.6 602.8,175.2 604.1,169.7 605.2,164.1 605.8,158.6 606.0,153.0 605.8,147.3 605.2,141.8 604.1,136.2 602.8,130.7 601.0,125.3 598.9,120.2 596.4,115.1 593.6,110.1 590.1,104.9 586.4,100.0 582.2,95.3 577.6,90.6 573.1,86.4 568.0,82.1 552.3,70.0 547.4,66.0 542.7,61.6 538.8,57.1 536.5,53.9 534.5,50.6 532.7,47.0 531.1,43.1 529.6,38.8 528.4,34.2 526.2,23.5M516.8,23.3 517.9,38.2 518.6,44.1 519.5,49.0 520.6,53.3 521.8,57.0 523.3,60.2 525.0,63.0 526.6,65.0 528.6,66.9 530.9,68.8 533.5,70.5 538.0,73.2 554.2,81.5 562.6,86.5M516.4,282.5 517.5,266.2 518.2,260.1 519.1,255.0 520.2,250.7 521.5,246.9 523.1,243.8 525.1,240.9 528.2,238.4 532.1,236.0 547.7,228.8 554.4,225.3 560.1,222.1 568.6,216.5 576.2,210.4M512.9,113.9 513.7,106.1 514.7,100.1 516.3,94.7 517.9,91.1 519.9,88.3 522.4,86.2 525.6,84.6 529.5,83.7 534.1,83.5 541.2,84.5 548.1,86.2 555.7,89.0 562.2,92.1 568.3,95.7 574.1,100.0 579.3,104.7M512.8,188.6 513.4,195.5 514.1,201.3 515.1,206.1 516.3,210.1 517.7,213.4 519.4,215.9 521.4,217.9 524.2,219.7 527.4,220.9 531.3,221.6 535.0,221.8 540.2,221.3 545.6,220.2 551.0,218.6 556.4,216.5 561.8,213.9M541.6,210.6 546.2,210.9 551.2,210.4 556.2,209.3 561.3,207.6 566.4,205.3 571.2,202.4 575.7,199.1 579.9,195.2 583.6,191.1 586.9,186.8 589.8,182.0 592.3,176.9 594.3,171.7 595.8,166.2 596.8,160.7 597.3,154.9 597.3,150.1 596.6,144.1 595.5,138.6 593.9,133.1 591.9,128.1 589.4,123.3 586.6,118.7 583.3,114.3 579.5,110.2 575.5,106.7 571.2,103.5 566.6,100.7 561.7,98.4 556.9,96.7 552.1,95.6 547.3,95.1 543.8,95.1 540.4,95.5 537.3,96.2 534.2,97.4 531.5,98.9 529.1,100.7 526.7,103.1 524.7,105.7 522.9,108.7 521.4,112.0 520.0,115.8 518.8,120.0 517.8,124.7 517.0,129.8 516.0,141.1 515.9,158.8 516.5,171.2 517.2,177.2 518.1,182.7 519.3,187.8 520.7,192.3 522.4,196.2 524.3,199.6 526.5,202.6 528.9,205.0 531.6,207.1 534.6,208.7 537.9,209.9 541.6,210.6M549.7,188.0 552.7,188.3 555.7,188.2 558.8,187.7 561.9,186.9 564.8,185.7 567.7,184.1 570.3,182.2 572.8,180.1 575.1,177.8 577.2,175.0 579.0,172.1 580.6,169.1 582.0,165.8 583.0,162.5 583.7,158.9 584.2,155.4 584.3,153.0 584.0,148.9 583.4,145.4 582.5,141.9 581.4,138.6 580.0,135.5 578.4,132.7 576.4,129.8 574.4,127.4 572.1,125.1 569.7,123.2 567.0,121.4 564.3,120.0 561.4,118.9 558.6,118.1 555.5,117.7 552.7,117.6 550.1,117.8 547.5,118.3 545.0,119.1 542.5,120.3 540.2,121.6 538.1,123.2 536.1,125.1 534.3,127.3 532.7,129.6 530.0,134.9 528.1,141.1 527.1,147.7 527.0,156.1 527.7,162.7 528.4,166.1 529.4,169.3 530.6,172.2 531.9,175.0 533.5,177.6 535.4,179.9 537.3,181.9 539.6,183.8 541.9,185.3 544.4,186.5 546.9,187.4 549.7,188.0M551.7,172.8 555.3,172.9 558.8,172.3 562.1,170.9 565.2,168.6 567.9,165.7 569.8,162.4 571.2,158.7 572.0,154.7 572.0,151.0 571.2,147.0 569.7,143.3 567.7,140.0 565.2,137.3 562.3,135.2 559.0,133.7 555.7,133.0 552.5,133.0 549.3,133.8 546.3,135.2 543.6,137.3 541.3,140.0 539.6,143.0 538.4,146.4 537.7,150.2 537.6,154.6 538.0,158.2 539.1,161.8 540.7,165.1 542.9,167.9 545.5,170.1 548.4,171.8 551.7,172.8M572.0,153.7 571.6,169.9"/>
<path d="M407.9,63.9 L414.8,58.7M415.8,67.2 L414.8,58.7M442.8,55.4 L450.2,51.1M450.2,59.7 L450.2,51.1M496.8,60.7 L502.8,54.5M505.1,62.8 L502.8,54.5M561.2,66.8 L560.2,58.3M568.1,61.6 L560.2,58.3M605.9,66.8 L606.9,58.3M613.8,63.5 L606.9,58.3M393.4,111.3 L399.7,105.5M401.6,113.9 L399.7,105.5M402.3,168.6 L406.0,160.8M410.8,167.9 L406.0,160.8M446.6,93.1 L455.2,92.7M451.3,100.3 L455.2,92.7M457.3,221.8 L453.6,214.0M462.2,214.8 L453.6,214.0M401.1,222.7 L402.6,214.2M409.2,219.7 L402.6,214.2M402.6,274.0 L404.5,265.6M410.8,271.3 L404.5,265.6M455.7,275.0 L456.5,266.5M463.5,271.4 L456.5,266.5M506.9,273.9 L511.2,266.5M515.5,273.9 L511.2,266.5M515.6,102.9 L511.2,110.3M507.0,102.8 L511.2,110.3M515.5,152.9 L511.2,160.4M506.9,153.0 L511.2,160.4M515.3,204.7 L511.2,212.3M506.8,204.9 L511.2,212.3M574.8,112.4 L571.2,104.6M579.7,105.4 L571.2,104.6M606.1,119.1 L607.2,110.6M614.1,115.8 L607.2,110.6M546.2,207.3 L554.5,209.4M548.5,215.6 L554.5,209.4M598.6,206.8 L605.6,201.9M606.4,210.4 L605.6,201.9M546.5,260.2 L554.0,256.1M553.8,264.7 L554.0,256.1M598.8,257.6 L605.6,252.3M606.7,260.8 L605.6,252.3M601.0,169.3 L606.1,162.4M609.5,170.3 L606.1,162.4M451.7,170.7 L452.5,162.1M459.6,167.1 L452.5,162.1M563.3,167.2 L570.2,162.1M571.2,170.7 L570.2,162.1" stroke-width="0.62"/>
</g>
<polygon points="512.2,68.1 513.6,72.2 517.9,72.2 514.5,74.8 515.7,79.0 512.2,76.5 508.7,79.0 509.9,74.8 506.5,72.2 510.8,72.2" fill="#000"/><polygon points="512.3,222.6 513.7,226.7 518.0,226.7 514.6,229.3 515.8,233.5 512.3,231.0 508.8,233.5 510.0,229.3 506.6,226.7 510.9,226.7" fill="#000"/>
<path d="M270.40,29.05 V285.40 H13.25" transform="translate(-0.3,-0.3)" stroke="#000" stroke-opacity="0.35" stroke-width="0.6" fill="none"/>
<path d="M640.75,22.85 V282.05 H381.10" transform="translate(-0.3,-0.3)" stroke="#000" stroke-opacity="0.45" stroke-width="0.6" fill="none"/>
<linearGradient id="cba" x1="0" y1="0" x2="0" y2="1"><stop offset="0.0000" stop-color="#ac0c00"/><stop offset="0.0156" stop-color="#db1e00"/><stop offset="0.0312" stop-color="#f42c00"/><stop offset="0.0469" stop-color="#ff3500"/><stop offset="0.0625" stop-color="#ff3700"/><stop offset="0.0781" stop-color="#ff3900"/><stop offset="0.0938" stop-color="#ff3b00"/><stop offset="0.1094" stop-color="#ff3e00"/><stop offset="0.1250" stop-color="#ff4200"/><stop offset="0.1406" stop-color="#ff4500"/><stop offset="0.1562" stop-color="#ff4900"/><stop offset="0.1719" stop-color="#ff4c00"/><stop offset="0.1875" stop-color="#ff4f00"/><stop offset="0.2031" stop-color="#ff5300"/><stop offset="0.2188" stop-color="#ff5800"/><stop offset="0.2344" stop-color="#ff6200"/><stop offset="0.2500" stop-color="#ff6c00"/><stop offset="0.2656" stop-color="#ff7c00"/><stop offset="0.2812" stop-color="#ff8c00"/><stop offset="0.2969" stop-color="#ff9d00"/><stop offset="0.3125" stop-color="#ffae00"/><stop offset="0.3281" stop-color="#ffbf00"/><stop offset="0.3438" stop-color="#ffcf00"/><stop offset="0.3594" stop-color="#ffde00"/><stop offset="0.3750" stop-color="#ffec00"/><stop offset="0.3906" stop-color="#f8fc00"/><stop offset="0.4062" stop-color="#cdff14"/><stop offset="0.4219" stop-color="#b1ff28"/><stop offset="0.4375" stop-color="#a1ff36"/><stop offset="0.4531" stop-color="#96ff42"/><stop offset="0.4688" stop-color="#8bff4f"/><stop offset="0.4844" stop-color="#81ff5b"/><stop offset="0.5000" stop-color="#75ff69"/><stop offset="0.5156" stop-color="#6cff74"/><stop offset="0.5312" stop-color="#66ff7e"/><stop offset="0.5469" stop-color="#5fff88"/><stop offset="0.5625" stop-color="#59ff92"/><stop offset="0.5781" stop-color="#55ff98"/><stop offset="0.5938" stop-color="#50ff9d"/><stop offset="0.6094" stop-color="#4bffa3"/><stop offset="0.6250" stop-color="#46ffa9"/><stop offset="0.6406" stop-color="#41feaf"/><stop offset="0.6562" stop-color="#3afcb5"/><stop offset="0.6719" stop-color="#34fabb"/><stop offset="0.6875" stop-color="#25f8ca"/><stop offset="0.7031" stop-color="#14f6dd"/><stop offset="0.7188" stop-color="#06eeed"/><stop offset="0.7344" stop-color="#05d3f8"/><stop offset="0.7500" stop-color="#0bb1f9"/><stop offset="0.7656" stop-color="#1096f8"/><stop offset="0.7812" stop-color="#1187f9"/><stop offset="0.7969" stop-color="#1179fa"/><stop offset="0.8125" stop-color="#0e6dfa"/><stop offset="0.8281" stop-color="#0a61fa"/><stop offset="0.8438" stop-color="#095bfa"/><stop offset="0.8594" stop-color="#0755fb"/><stop offset="0.8750" stop-color="#054ffc"/><stop offset="0.8906" stop-color="#0449fc"/><stop offset="0.9062" stop-color="#0345fd"/><stop offset="0.9219" stop-color="#0240fe"/><stop offset="0.9375" stop-color="#013cff"/><stop offset="0.9531" stop-color="#0038ff"/><stop offset="0.9688" stop-color="#0035ff"/><stop offset="0.9844" stop-color="#0031ff"/><stop offset="1.0000" stop-color="#002eff"/></linearGradient>
<rect x="296.50" y="29.20" width="25.10" height="256.40" fill="url(#cba)"/>
<path d="M296.70,29.20 V285.40 H321.40 V29.20" stroke="#000" stroke-opacity="0.7" stroke-width="0.7" fill="none"/>
<text x="323.9" y="31.7" class="tka">1.8</text>
<text x="323.9" y="53.1" class="tka">1.5</text>
<text x="323.9" y="88.7" class="tka">1</text>
<text x="323.9" y="124.3" class="tka">0.5</text>
<text x="323.9" y="159.9" class="tka">0</text>
<text x="323.9" y="195.6" class="tka">−0.5</text>
<text x="323.9" y="231.2" class="tka">−1</text>
<text x="323.9" y="266.8" class="tka">−1.5</text>
<text x="323.9" y="288.2" class="tka">−1.8</text>
<path d="M296.5,50.5 h2.8 M321.6,50.5 h-2.8M296.5,86.1 h2.8 M321.6,86.1 h-2.8M296.5,121.7 h2.8 M321.6,121.7 h-2.8M296.5,157.3 h2.8 M321.6,157.3 h-2.8M296.5,193.0 h2.8 M321.6,193.0 h-2.8M296.5,228.6 h2.8 M321.6,228.6 h-2.8M296.5,264.2 h2.8 M321.6,264.2 h-2.8" stroke="#111" stroke-width="0.7" fill="none"/>
<linearGradient id="cbb" x1="0" y1="0" x2="0" y2="1"><stop offset="0.0000" stop-color="#ac0c00"/><stop offset="0.0156" stop-color="#db1e00"/><stop offset="0.0312" stop-color="#f42c00"/><stop offset="0.0469" stop-color="#ff3500"/><stop offset="0.0625" stop-color="#ff3700"/><stop offset="0.0781" stop-color="#ff3900"/><stop offset="0.0938" stop-color="#ff3b00"/><stop offset="0.1094" stop-color="#ff3e00"/><stop offset="0.1250" stop-color="#ff4200"/><stop offset="0.1406" stop-color="#ff4500"/><stop offset="0.1562" stop-color="#ff4900"/><stop offset="0.1719" stop-color="#ff4c00"/><stop offset="0.1875" stop-color="#ff4f00"/><stop offset="0.2031" stop-color="#ff5300"/><stop offset="0.2188" stop-color="#ff5800"/><stop offset="0.2344" stop-color="#ff6200"/><stop offset="0.2500" stop-color="#ff6c00"/><stop offset="0.2656" stop-color="#ff7c00"/><stop offset="0.2812" stop-color="#ff8c00"/><stop offset="0.2969" stop-color="#ff9d00"/><stop offset="0.3125" stop-color="#ffae00"/><stop offset="0.3281" stop-color="#ffbf00"/><stop offset="0.3438" stop-color="#ffcf00"/><stop offset="0.3594" stop-color="#ffde00"/><stop offset="0.3750" stop-color="#ffec00"/><stop offset="0.3906" stop-color="#f8fc00"/><stop offset="0.4062" stop-color="#cdff14"/><stop offset="0.4219" stop-color="#b1ff28"/><stop offset="0.4375" stop-color="#a1ff36"/><stop offset="0.4531" stop-color="#96ff42"/><stop offset="0.4688" stop-color="#8bff4f"/><stop offset="0.4844" stop-color="#81ff5b"/><stop offset="0.5000" stop-color="#75ff69"/><stop offset="0.5156" stop-color="#6cff74"/><stop offset="0.5312" stop-color="#66ff7e"/><stop offset="0.5469" stop-color="#5fff88"/><stop offset="0.5625" stop-color="#59ff92"/><stop offset="0.5781" stop-color="#55ff98"/><stop offset="0.5938" stop-color="#50ff9d"/><stop offset="0.6094" stop-color="#4bffa3"/><stop offset="0.6250" stop-color="#46ffa9"/><stop offset="0.6406" stop-color="#41feaf"/><stop offset="0.6562" stop-color="#3afcb5"/><stop offset="0.6719" stop-color="#34fabb"/><stop offset="0.6875" stop-color="#25f8ca"/><stop offset="0.7031" stop-color="#14f6dd"/><stop offset="0.7188" stop-color="#06eeed"/><stop offset="0.7344" stop-color="#05d3f8"/><stop offset="0.7500" stop-color="#0bb1f9"/><stop offset="0.7656" stop-color="#1096f8"/><stop offset="0.7812" stop-color="#1187f9"/><stop offset="0.7969" stop-color="#1179fa"/><stop offset="0.8125" stop-color="#0e6dfa"/><stop offset="0.8281" stop-color="#0a61fa"/><stop offset="0.8438" stop-color="#095bfa"/><stop offset="0.8594" stop-color="#0755fb"/><stop offset="0.8750" stop-color="#054ffc"/><stop offset="0.8906" stop-color="#0449fc"/><stop offset="0.9062" stop-color="#0345fd"/><stop offset="0.9219" stop-color="#0240fe"/><stop offset="0.9375" stop-color="#013cff"/><stop offset="0.9531" stop-color="#0038ff"/><stop offset="0.9688" stop-color="#0035ff"/><stop offset="0.9844" stop-color="#0031ff"/><stop offset="1.0000" stop-color="#002eff"/></linearGradient>
<rect x="663.60" y="22.40" width="18.30" height="260.10" fill="url(#cbb)"/>
<path d="M663.80,22.40 V282.30 H681.70 V22.40" stroke="#000" stroke-opacity="0.7" stroke-width="0.7" fill="none"/>
<path d="M663.60,21.40 H681.90" stroke="#000" stroke-width="1" fill="none"/>
<text x="684.8" y="24.2" class="tk">8</text>
<text x="684.8" y="57.5" class="tk">7</text>
<text x="684.8" y="90.7" class="tk">6</text>
<text x="684.8" y="124.0" class="tk">5</text>
<text x="684.8" y="157.3" class="tk">4</text>
<text x="684.8" y="190.6" class="tk">3</text>
<text x="684.8" y="223.8" class="tk">2</text>
<text x="684.8" y="257.1" class="tk">1</text>
<path d="M663.6,54.3 h2.8 M681.9,54.3 h-2.8M663.6,87.5 h2.8 M681.9,87.5 h-2.8M663.6,120.8 h2.8 M681.9,120.8 h-2.8M663.6,154.1 h2.8 M681.9,154.1 h-2.8M663.6,187.4 h2.8 M681.9,187.4 h-2.8M663.6,220.6 h2.8 M681.9,220.6 h-2.8M663.6,253.9 h2.8 M681.9,253.9 h-2.8" stroke="#111" stroke-width="0.7" fill="none"/>
<text x="12.9" y="14.1" class="lab"><tspan class="par" dy="0.7">(</tspan><tspan dy="-0.7">a</tspan><tspan class="par" dy="0.7">)</tspan></text>
<text x="378.2" y="12.6" class="lab"><tspan class="par" dy="0.7">(</tspan><tspan dy="-0.7">b</tspan><tspan class="par" dy="0.7">)</tspan></text>
<text x="0.2" y="159.0" class="ax">z</text>
<text x="361.0" y="162.5" class="ax">z</text>
<text x="140.2" y="298.7" class="ax">x</text>
<text x="510.0" y="298.7" class="ax">x</text>
</svg>
</body></html>
